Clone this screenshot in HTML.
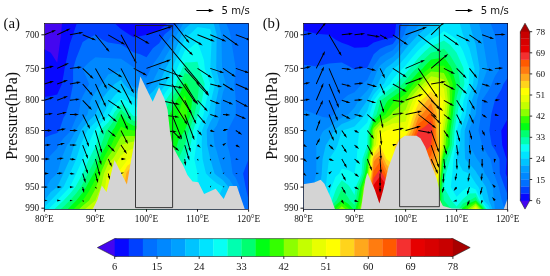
<!DOCTYPE html>
<html lang="en"><head><meta charset="utf-8"><title>Figure</title>
<style>html,body{margin:0;padding:0;background:#fff}svg{display:block}text{font-family:"Liberation Serif","DejaVu Serif",serif;fill:#111}</style></head><body>
<svg width="550" height="276" viewBox="0 0 550 276">
<rect width="550" height="276" fill="#fff"/>
<clipPath id="cp1"><rect x="44.4" y="23.3" width="204.2" height="186"/></clipPath>
<g clip-path="url(#cp1)">
<rect x="44.4" y="23.3" width="204.2" height="186" fill="#4406f0"/>
<path fill="#0808ff" fill-rule="evenodd" d="M62 23.3L63.5 23.3L69.9 23.3L76.3 23.3L82.7 23.3L89.1 23.3L95.4 23.3L101.8 23.3L108.2 23.3L114.6 23.3L121 23.3L127.3 23.3L133.7 23.3L140.1 23.3L146.5 23.3L152.9 23.3L159.2 23.3L165.6 23.3L172 23.3L178.4 23.3L184.8 23.3L191.1 23.3L197.5 23.3L203.9 23.3L210.3 23.3L216.7 23.3L223 23.3L229.4 23.3L235.8 23.3L242.2 23.3L248.6 23.3L248.6 34.8L248.6 68.4L248.6 84L248.6 100.3L248.6 114.5L248.6 130.5L248.6 145.1L248.6 159L248.6 173.5L248.6 187.1L248.6 200.5L248.6 209.3L242.2 209.3L235.8 209.3L229.4 209.3L223 209.3L216.7 209.3L210.3 209.3L203.9 209.3L197.5 209.3L191.1 209.3L184.8 209.3L178.4 209.3L172 209.3L165.6 209.3L159.2 209.3L152.9 209.3L146.5 209.3L140.1 209.3L133.7 209.3L127.3 209.3L121 209.3L114.6 209.3L108.2 209.3L101.8 209.3L95.4 209.3L89.1 209.3L82.7 209.3L76.3 209.3L69.9 209.3L63.5 209.3L57.2 209.3L50.8 209.3L44.4 209.3L44.4 200.5L44.4 187.1L44.4 173.5L44.4 159L44.4 145.1L44.4 130.5L44.4 114.5L44.4 100.3L44.4 84L44.4 68.4L44.4 49.2L50.8 52.7L57.2 62.8L61 34.8Z"/>
<path fill="#0040ff" fill-rule="evenodd" d="M73 34.8L76.3 24.7L76.7 23.3L82.7 23.3L89.1 23.3L95.4 23.3L101.8 23.3L108.2 23.3L114.6 23.3L114.6 23.3L121 29L127.3 33.2L129.5 34.8L133.7 37.3L140.1 36.3L146.5 34.8L146.5 34.8L152.9 32.2L159.2 30.2L165.6 24.7L168.8 23.3L172 23.3L178.4 23.3L184.8 23.3L191.1 23.3L197.5 23.3L203.9 23.3L210.3 23.3L216.7 23.3L223 23.3L229.4 23.3L235.8 23.3L242.2 23.3L248.6 23.3L248.6 34.8L248.6 68.4L248.6 84L248.6 100.3L248.6 114.5L248.6 130.5L248.6 145.1L248.6 159L248.6 173.5L248.6 187.1L248.6 200.5L248.6 209.3L242.2 209.3L235.8 209.3L229.4 209.3L223 209.3L216.7 209.3L210.3 209.3L203.9 209.3L197.5 209.3L191.1 209.3L184.8 209.3L178.4 209.3L172 209.3L165.6 209.3L159.2 209.3L152.9 209.3L146.5 209.3L140.1 209.3L133.7 209.3L127.3 209.3L121 209.3L114.6 209.3L108.2 209.3L101.8 209.3L95.4 209.3L89.1 209.3L82.7 209.3L76.3 209.3L69.9 209.3L63.5 209.3L57.2 209.3L50.8 209.3L44.4 209.3L44.4 200.5L44.4 187.1L44.4 173.5L44.4 159L44.4 145.1L44.4 130.5L44.4 114.5L44.4 100.3L44.4 97L50.8 95.9L57.2 94.6L61.9 84L63.5 75.3L64.6 68.4L69.9 43.5Z"/>
<path fill="#0070ff" fill-rule="evenodd" d="M164.3 34.8L165.6 33.4L172 28.5L175.4 23.3L178.4 23.3L184.8 23.3L191.1 23.3L197.5 23.3L203.9 23.3L210.3 23.3L216.7 23.3L223 23.3L229.4 23.3L235.8 23.3L242.2 23.3L248.6 23.3L248.6 34.8L248.6 68.4L248.6 84L248.6 100.3L248.6 114.5L248.6 130.5L248.6 130.5L248.6 145.1L248.6 159L243.1 173.5L245.6 187.1L248.6 200.5L248.6 200.5L248.6 209.3L242.2 209.3L235.8 209.3L229.4 209.3L223 209.3L216.7 209.3L210.3 209.3L203.9 209.3L197.5 209.3L191.1 209.3L184.8 209.3L178.4 209.3L172 209.3L165.6 209.3L159.2 209.3L152.9 209.3L146.5 209.3L140.1 209.3L133.7 209.3L127.3 209.3L121 209.3L114.6 209.3L108.2 209.3L101.8 209.3L95.4 209.3L89.1 209.3L82.7 209.3L76.3 209.3L69.9 209.3L63.5 209.3L57.2 209.3L50.8 209.3L44.4 209.3L44.4 200.5L44.4 187.1L44.4 173.5L44.4 159L44.4 145.1L44.4 137.8L50.8 134.9L57.2 132.9L59.3 130.5L63.5 117.7L65.7 114.5L69.9 100.3L69.9 100.3L73.1 84L73.1 68.4L76.3 58.1L82.7 41.9L89.1 38L95.4 34.8L101.8 39.4L108.2 42.6L114.6 43.5L121 44.4L127.3 48.3L133.7 52.4L140.1 54.3L146.5 57.2L152.9 48.2L159.2 43.2Z"/>
<path fill="#0088ff" fill-rule="evenodd" d="M172 34.8L178.4 25.1L179.4 23.3L184.8 23.3L191.1 23.3L197.5 23.3L203.9 23.3L210.3 23.3L216.7 23.3L223 23.3L226.2 23.3L229.4 31L230.3 34.8L235.8 68.4L234.4 84L235.8 100.3L235.8 114.5L229.4 127.3L227.3 130.5L227.3 145.1L229.4 152.1L230.7 159L232.6 173.5L235.8 178L239.7 187.1L235.8 200.5L235.8 200.5L235.8 209.3L229.4 209.3L223 209.3L216.7 209.3L210.3 209.3L203.9 209.3L197.5 209.3L191.1 209.3L184.8 209.3L178.4 209.3L172 209.3L165.6 209.3L159.2 209.3L152.9 209.3L146.5 209.3L140.1 209.3L133.7 209.3L127.3 209.3L121 209.3L114.6 209.3L108.2 209.3L101.8 209.3L95.4 209.3L89.1 209.3L82.7 209.3L76.3 209.3L69.9 209.3L63.5 209.3L57.2 209.3L50.8 209.3L44.4 209.3L44.4 200.5L44.4 187.1L44.4 173.5L44.4 163.8L47.6 159L50.8 155L57.2 148.6L58.6 145.1L63.5 138.3L69.9 132.1L70.8 130.5L76.3 117.2L78.5 114.5L80.9 100.3L82.7 96.2L89.1 84L89.1 84L89.1 84L82.7 68.4L89.1 62.3L95.4 57.2L101.8 57.7L108.2 58.1L114.6 58.4L121 58.8L127.3 63L133.7 67.4L135.2 68.4L140.1 74.5L146.5 77.8L150.7 68.4L152.9 64.4L159.2 55.8L165.6 44.7L172 34.8Z"/>
<path fill="#00a0ff" fill-rule="evenodd" d="M176.8 34.8L178.4 32.4L183.4 23.3L184.8 23.3L191.1 23.3L197.5 23.3L203.9 23.3L210.3 23.3L216.7 23.3L218.8 23.3L221.4 34.8L222.1 68.4L223 73.6L225.9 84L223 92.2L221.3 100.3L220.9 114.5L216.7 125.5L213.1 130.5L214.6 145.1L216.7 151.3L218.8 159L223 173.5L223 173.5L229.4 179.5L234 187.1L230.3 200.5L230.3 209.3L229.4 209.3L223 209.3L216.7 209.3L210.3 209.3L203.9 209.3L197.5 209.3L191.1 209.3L184.8 209.3L178.4 209.3L172 209.3L165.6 209.3L159.2 209.3L152.9 209.3L146.5 209.3L140.1 209.3L133.7 209.3L127.3 209.3L121 209.3L114.6 209.3L108.2 209.3L101.8 209.3L95.4 209.3L89.1 209.3L82.7 209.3L76.3 209.3L69.9 209.3L63.5 209.3L57.2 209.3L50.8 209.3L44.4 209.3L44.4 200.5L44.4 189L46.2 187.1L50.8 179.5L57.2 173.5L57.2 173.5L61.4 159L63.5 153.8L67.1 145.1L69.9 141.9L75.9 130.5L76.3 129.5L82.7 119.5L87.5 114.5L89.1 106.8L90.7 100.3L95.4 92.2L101.8 84L101.8 84L108.2 74.6L114.6 72.3L121 71.2L127.3 77.8L129.8 84L133.7 87.3L140.1 88.1L146.5 89.4L151.6 84L152.9 81.2L159.2 68.4L159.2 68.4L165.6 56.5L172 46Z"/>
<path fill="#00c4ff" fill-rule="evenodd" d="M181.6 34.8L184.8 29L191.1 23.3L191.1 23.3L197.5 23.3L203.9 23.3L210.3 23.3L213.7 23.3L216.7 34.8L216.2 68.4L216.7 70.1L219.8 84L216.7 98.5L216.2 100.3L214.5 114.5L210.3 121.9L206.7 130.5L207.2 145.1L210.3 159L210.3 159L214.5 173.5L216.7 175.4L223 180.3L228.5 187.1L224.9 200.5L224.9 209.3L223 209.3L216.7 209.3L210.3 209.3L203.9 209.3L197.5 209.3L191.1 209.3L184.8 209.3L178.4 209.3L172 209.3L165.6 209.3L159.2 209.3L152.9 209.3L146.5 209.3L140.1 209.3L133.7 209.3L127.3 209.3L121 209.3L114.6 209.3L108.2 209.3L101.8 209.3L95.4 209.3L89.1 209.3L82.7 209.3L76.3 209.3L69.9 209.3L63.5 209.3L57.2 209.3L50.8 209.3L44.4 209.3L44.4 200.5L44.4 200.5L50.8 192L57.2 187.1L57.2 187.1L63.5 173.5L63.5 173.5L69.9 159L69.9 159L74.2 145.1L76.3 141.2L81 130.5L82.7 127.7L89.1 120.7L95.4 114.5L95.4 114.5L100.9 100.3L101.8 99L108.2 91L114.6 84L114.6 84L121 79.7L123.9 84L127.3 87.8L133.7 92.2L140.1 94.2L146.5 97.6L152.9 91.4L159.2 84L159.2 84L165.6 68.4L165.6 68.4L172 57.2L178.4 42.5Z"/>
<path fill="#00e4ff" fill-rule="evenodd" d="M189 34.8L191.1 33.2L197.5 27.1L203.9 27.9L210.3 29L211.9 34.8L210.3 68.4L210.3 68.4L210.3 68.4L215.1 84L211.1 100.3L210.3 105L208.6 114.5L203.9 125.8L202.1 130.5L201.7 145.1L202.6 159L203.9 164.8L206 173.5L210.3 178L216.7 183.2L223 187.1L216.7 200.5L216.7 200.5L216.7 209.3L210.3 209.3L203.9 209.3L197.5 209.3L191.1 209.3L184.8 209.3L178.4 209.3L172 209.3L165.6 209.3L159.2 209.3L152.9 209.3L146.5 209.3L140.1 209.3L133.7 209.3L127.3 209.3L121 209.3L114.6 209.3L108.2 209.3L101.8 209.3L95.4 209.3L89.1 209.3L82.7 209.3L76.3 209.3L69.9 209.3L63.5 209.3L57.2 209.3L50.8 209.3L44.4 209.3L44.4 207.1L50.8 200.5L50.8 200.5L57.2 193.8L63.5 187.1L63.5 187.1L69.9 173.5L69.9 173.5L76.3 159L76.3 159L80.6 145.1L82.7 140.2L87.3 130.5L89.1 128.5L95.4 121.9L101.8 115.6L103.1 114.5L108.2 105L111 100.3L114.6 95.5L121 88.9L127.3 94.3L133.7 97L140.1 100.3L140.1 100.3L146.5 105L152.9 100.3L152.9 100.3L159.2 93.8L165.6 84L165.6 84L172 68.4L172 68.4L178.4 54L184.8 38.8Z"/>
<path fill="#08fff4" fill-rule="evenodd" d="M177.1 68.4L178.4 65.5L184.8 50.6L191.1 47.2L197.5 41.5L203.9 60L204.8 68.4L210.3 84L206.5 100.3L203.9 112.7L203.5 114.5L197.5 130.5L197.5 130.5L196.2 145.1L194.3 159L197.5 173.5L197.5 187.1L191.1 193.8L184.8 200.5L184.8 200.5L184.8 209.3L178.4 209.3L172 209.3L165.6 209.3L159.2 209.3L152.9 209.3L146.5 209.3L140.1 209.3L133.7 209.3L127.3 209.3L121 209.3L114.6 209.3L108.2 209.3L101.8 209.3L95.4 209.3L89.1 209.3L82.7 209.3L76.3 209.3L69.9 209.3L63.5 209.3L57.2 209.3L50.8 209.3L48.3 209.3L50.8 206.7L57.2 200.5L57.2 200.5L63.5 193.8L69.9 187.1L69.9 187.1L76.3 173.5L76.3 173.5L82.7 159L82.7 159L88.1 145.1L89.1 143.1L94.3 130.5L95.4 129.3L101.8 122.2L108.2 116.5L109.5 114.5L114.6 104.6L119.5 100.3L121 98.7L125.2 100.3L127.3 100.9L133.7 105L140.1 109.8L146.5 112.1L152.9 107.4L159.2 102.7L160.8 100.3L165.6 92.2L172 84L172 84Z"/>
<path fill="#00ffb0" fill-rule="evenodd" d="M182.2 68.4L184.8 62.5L191.1 62.2L197.5 61.7L199.3 68.4L203.9 81.4L204.8 84L203.9 88.7L202 100.3L198.4 114.5L197.5 116.8L193.3 130.5L191.1 142.3L190.5 145.1L184.8 159L184.8 159L182.2 173.5L178.4 187.1L178.4 187.1L172 200.5L172 200.5L172 209.3L165.6 209.3L159.2 209.3L152.9 209.3L146.5 209.3L140.1 209.3L133.7 209.3L127.3 209.3L121 209.3L114.6 209.3L108.2 209.3L101.8 209.3L95.4 209.3L89.1 209.3L82.7 209.3L76.3 209.3L69.9 209.3L63.5 209.3L57.2 209.3L54.2 209.3L57.2 206.4L63.5 200.5L63.5 200.5L69.9 193.8L75.4 187.1L76.3 185.2L82.7 173.5L82.7 173.5L89.1 159L89.1 159L95.4 146.4L96 145.1L100.3 130.5L101.8 128.8L108.2 122.5L113.3 114.5L114.6 112L121 104.5L127.3 108.3L131.9 114.5L133.7 116.1L140.1 116.8L146.5 117.4L152.9 114.5L152.9 114.5L159.2 109.8L165.6 100.3L165.6 100.3L172 91L176 84L178.4 77.2Z"/>
<path fill="#00ff70" fill-rule="evenodd" d="M180.1 84L184.8 73.1L191.1 75.2L197.5 78.8L199.3 84L197.5 100.3L197.5 100.3L194.5 114.5L191.1 124.9L189 130.5L184.8 145.1L184.8 145.1L178.4 159L178.4 159L174.6 173.5L172 180.3L170.4 187.1L167.2 200.5L167.2 209.3L165.6 209.3L159.2 209.3L152.9 209.3L146.5 209.3L140.1 209.3L133.7 209.3L127.3 209.3L121 209.3L114.6 209.3L108.2 209.3L101.8 209.3L95.4 209.3L89.1 209.3L82.7 209.3L76.3 209.3L69.9 209.3L63.5 209.3L60.6 209.3L63.5 206.7L69.9 200.5L69.9 200.5L76.3 193.2L80.9 187.1L82.7 183.7L88.1 173.5L89.1 171.4L95.4 159L95.4 159L101.2 145.1L101.8 143.1L106.2 130.5L108.2 128.5L114.6 119.8L117.1 114.5L121 109.5L126.4 114.5L127.3 115.6L133.7 120.9L140.1 121.4L146.5 121.8L152.9 119.8L159.2 116.8L161.8 114.5L165.6 109.8L170.4 100.3L172 98L178.4 87.9Z"/>
<path fill="#00ff14" fill-rule="evenodd" d="M184.1 84L184.8 82.4L187.3 84L191.1 93.8L192.1 100.3L191.1 109.8L190.8 114.5L184.8 130.5L184.8 130.5L178.4 140.2L177.1 145.1L172 159L172 159L168.8 173.5L165.6 187.1L165.6 187.1L162.4 200.5L162.4 209.3L159.2 209.3L152.9 209.3L146.5 209.3L140.1 209.3L133.7 209.3L127.3 209.3L121 209.3L114.6 209.3L108.2 209.3L101.8 209.3L95.4 209.3L89.1 209.3L82.7 209.3L76.3 209.3L69.9 209.3L67.6 209.3L69.9 207.1L76.3 200.5L76.3 200.5L82.7 192.5L86.1 187.1L89.1 181.5L93.6 173.5L95.4 169.9L99.3 159L101.8 153L106.5 145.1L108.2 140.2L112.5 130.5L114.6 127.8L121 114.5L127.3 122.5L133.7 125.7L140.1 125.9L146.5 126.1L152.9 125.2L159.2 123.6L165.6 120.5L169.4 114.5L172 109.8L176.3 100.3L178.4 97.2Z"/>
<path fill="#34ff00" fill-rule="evenodd" d="M182.6 100.3L184.8 95.6L186.6 100.3L187.2 114.5L184.8 120.9L178.4 114.5ZM118.8 130.5L121 126.5L127.3 129.4L133.7 130.5L133.7 130.5L140.1 130.5L146.5 130.5L152.9 130.5L159.2 130.5L165.6 135.4L168.8 145.1L165.6 159L165.6 159L164 173.5L160.8 187.1L159.2 193.8L157.4 200.5L157.4 209.3L152.9 209.3L146.5 209.3L140.1 209.3L133.7 209.3L127.3 209.3L121 209.3L114.6 209.3L108.2 209.3L101.8 209.3L95.4 209.3L89.1 209.3L82.7 209.3L76.3 209.3L73.6 209.3L76.3 206.4L82.7 200.5L82.7 200.5L89.1 191L91.2 187.1L95.4 179.5L97.6 173.5L101.8 161.9L103.1 159L108.2 149.7L111.4 145.1L114.6 137.8Z"/>
<path fill="#8cff00" fill-rule="evenodd" d="M116.2 145.1L121 136.3L127.3 136.1L133.7 136L140.1 136.8L146.5 137.8L152.9 140.2L159.2 145.1L159.2 159L159.2 173.5L156.1 187.1L152.9 197.8L151.9 200.5L151.9 209.3L146.5 209.3L140.1 209.3L133.7 209.3L127.3 209.3L121 209.3L114.6 209.3L108.2 209.3L101.8 209.3L95.4 209.3L89.1 209.3L82.7 209.3L79 209.3L82.7 205.8L89.1 200.5L89.1 200.5L95.4 189L96.2 187.1L100.8 173.5L101.8 170.6L106.9 159L108.2 156.7L114.6 147.9Z"/>
<path fill="#c4ff00" fill-rule="evenodd" d="M121 145.1L127.3 142.9L133.7 141.4L140.1 143L146.5 145.1L146.5 145.1L152.9 153.4L154.5 159L154.5 173.5L152.9 180.3L151.3 187.1L146.5 200.5L146.5 200.5L146.5 209.3L140.1 209.3L133.7 209.3L127.3 209.3L121 209.3L114.6 209.3L108.2 209.3L101.8 209.3L95.4 209.3L89.1 209.3L84.8 209.3L89.1 205.8L95.4 200.5L95.4 200.5L100.7 187.1L101.8 183.4L103.9 173.5L108.2 163.8L112.5 159L114.6 156.2L121 145.1Z"/>
<path fill="#e8ff00" fill-rule="evenodd" d="M118.8 159L121 155.5L127.3 151.3L133.7 147.9L140.1 150.7L146.5 153.4L149.7 159L149.7 173.5L146.5 187.1L146.5 187.1L140.1 199.8L138.8 200.5L138.8 209.3L133.7 209.3L127.3 209.3L121 209.3L114.6 209.3L108.2 209.3L101.8 209.3L95.4 209.3L91.2 209.3L95.4 205.8L101.8 202.3L103.1 200.5L105.2 187.1L107.1 173.5L108.2 171.1L114.6 165.4Z"/>
<path fill="#ffff00" fill-rule="evenodd" d="M129.5 159L133.7 156.2L140.1 159L140.1 159L145.6 173.5L144.4 187.1L140.1 195.6L133.7 199.7L127.3 199.2L121 197.2L114.6 193.8L111.4 187.1L114.6 178L116.7 173.5L121 168.7L127.3 160Z"/>
<path fill="#ffd41c" fill-rule="evenodd" d="M123.1 173.5L127.3 165.8L133.7 161.4L140.1 166.2L142.8 173.5L142.2 187.1L140.1 191.3L133.7 197.2L127.3 195.1L121 187.1Z"/>
<path fill="#ffa81c" fill-rule="evenodd" d="M126.3 173.5L127.3 171.6L133.7 165L140.1 173.5L140.1 187.1L133.7 194.6L127.3 191.1L124.2 187.1Z"/>
<path fill="#ff7c10" fill-rule="evenodd" d="M129.5 173.5L133.7 168.7L137.4 173.5L138 187.1L133.7 192.1L127.3 187.1Z"/>
<path fill="#ff5a00" fill-rule="evenodd" d="M132.7 173.5L133.7 172.3L134.6 173.5L135.8 187.1L133.7 189.6L130.5 187.1Z"/>
<g fill="#000">
<path d="M44.58 35.24L52.29 32.12L52.56 32.79L56 30.1L51.66 30.57L51.93 31.24L44.22 34.36Z"/>
<path d="M57.36 35.23L66.97 30.64L67.29 31.29L70.56 28.4L66.25 29.13L66.57 29.78L56.96 34.37Z"/>
<path d="M70.01 35.27L79.38 33.53L79.51 34.24L83.42 32.3L79.07 31.88L79.2 32.6L69.83 34.33Z"/>
<path d="M82.5 35.24L92.01 39.14L91.74 39.82L96.08 40.3L92.65 37.6L92.37 38.27L82.86 34.36Z"/>
<path d="M95.07 35.1L106.51 49.05L105.95 49.51L109.54 52L107.81 47.99L107.24 48.45L95.81 34.5Z"/>
<path d="M107.96 35.21L121.33 43L120.97 43.62L125.2 44.7L122.17 41.55L121.81 42.18L108.44 34.39Z"/>
<path d="M120.54 35.03L134.23 60.14L133.6 60.49L136.66 63.6L135.7 59.34L135.07 59.68L121.38 34.57Z"/>
<path d="M133.48 35.21L145.75 42.31L145.38 42.94L149.62 44L146.59 40.86L146.22 41.49L133.96 34.39Z"/>
<path d="M146.63 35.25L168.64 27.97L168.87 28.66L172.48 26.2L168.12 26.38L168.34 27.07L146.33 34.35Z"/>
<path d="M158.87 35.1L205.99 91.97L205.44 92.43L209.04 94.9L207.28 90.9L206.73 91.36L159.61 34.5Z"/>
<path d="M171.67 35.14L189.87 53L189.36 53.52L193.2 55.6L191.04 51.8L190.53 52.32L172.33 34.46Z"/>
<path d="M184.52 35.21L198.9 43.68L198.53 44.3L202.76 45.4L199.75 42.23L199.38 42.86L185 34.39Z"/>
<path d="M197.35 35.24L210.63 40.42L210.37 41.09L214.72 41.5L211.24 38.86L210.98 39.53L197.69 34.36Z"/>
<path d="M210.1 35.24L222.22 40.32L221.94 40.98L226.28 41.5L222.87 38.77L222.59 39.44L210.46 34.36Z"/>
<path d="M222.76 35.19L235.05 44.03L234.63 44.62L238.74 46.1L236.03 42.67L235.61 43.26L223.32 34.41Z"/>
<path d="M235.64 35.25L246.69 39.3L246.44 39.98L250.8 40.3L247.27 37.73L247.02 38.41L235.96 34.35Z"/>
<path d="M44.52 68.86L50.04 67.48L50.22 68.18L54 66L49.63 65.85L49.81 66.56L44.28 67.94Z"/>
<path d="M57.36 68.83L65.34 65.18L65.64 65.84L68.96 63L64.64 63.66L64.94 64.32L56.96 67.97Z"/>
<path d="M69.98 68.87L77.8 67.96L77.89 68.68L81.92 67L77.61 66.29L77.69 67.01L69.86 67.93Z"/>
<path d="M82.35 68.74L90.33 76.43L89.82 76.95L93.68 79L91.49 75.22L90.99 75.74L83.01 68.06Z"/>
<path d="M95.03 68.63L104.57 85.57L103.93 85.93L107.04 89L106.02 84.75L105.39 85.11L95.85 68.17Z"/>
<path d="M107.94 68.8L118.62 75.71L118.22 76.32L122.4 77.6L119.53 74.31L119.13 74.92L108.46 68Z"/>
<path d="M120.54 68.62L131.6 89.89L130.96 90.23L133.96 93.4L133.09 89.12L132.44 89.45L121.38 68.18Z"/>
<path d="M133.5 68.82L143.18 73.88L142.84 74.52L147.12 75.4L143.95 72.39L143.62 73.03L133.94 67.98Z"/>
<path d="M146.64 68.85L167.19 61.47L167.43 62.15L170.98 59.6L166.62 59.89L166.87 60.57L146.32 67.95Z"/>
<path d="M159.08 68.85L178.93 76.02L178.68 76.7L183.04 77L179.5 74.44L179.25 75.13L159.4 67.95Z"/>
<path d="M171.61 68.67L193.23 100.2L192.64 100.61L196 103.4L194.61 99.26L194.02 99.67L172.39 68.13Z"/>
<path d="M184.4 68.71L196.63 82.56L196.08 83.04L199.76 85.4L197.88 81.46L197.34 81.94L185.12 68.09Z"/>
<path d="M197.26 68.8L208.35 76.09L207.95 76.7L212.12 78L209.27 74.69L208.87 75.3L197.78 68Z"/>
<path d="M210.13 68.85L219.95 72.12L219.72 72.81L224.08 73L220.48 70.53L220.25 71.22L210.43 67.95Z"/>
<path d="M222.78 68.79L232.09 75.05L231.68 75.65L235.84 77L233.02 73.66L232.62 74.26L223.3 68.01Z"/>
<path d="M235.65 68.85L245.07 72.09L244.84 72.77L249.2 73L245.62 70.5L245.38 71.19L235.95 67.95Z"/>
<path d="M44.54 84.45L50.13 82.71L50.35 83.4L54 81L49.63 81.11L49.85 81.8L44.26 83.55Z"/>
<path d="M57.32 84.45L64.19 81.9L64.44 82.58L67.96 80L63.6 80.33L63.86 81.01L57 83.55Z"/>
<path d="M70 84.47L76.87 83.22L77 83.93L80.92 82L76.57 81.57L76.7 82.28L69.84 83.53Z"/>
<path d="M82.32 84.31L89.97 93.14L89.42 93.61L93.08 96L91.24 92.04L90.69 92.52L83.04 83.69Z"/>
<path d="M95.01 84.2L103.85 103.38L103.19 103.69L106.04 107L105.37 102.68L104.71 102.99L95.87 83.8Z"/>
<path d="M107.94 84.39L117.85 91.05L117.44 91.65L121.6 93L118.78 89.66L118.38 90.26L108.46 83.61Z"/>
<path d="M120.54 84.22L129.59 101.5L128.95 101.84L131.96 105L131.07 100.72L130.43 101.06L121.38 83.78Z"/>
<path d="M146.62 84.46L166.19 78.65L166.39 79.34L170.08 77L165.71 77.04L165.92 77.74L146.34 83.54Z"/>
<path d="M159.16 84.47L178.82 87.77L178.7 88.49L183.04 88L179.1 86.12L178.98 86.84L159.32 83.53Z"/>
<path d="M171.6 84.26L189.28 110.77L188.67 111.17L192 114L190.67 109.84L190.07 110.24L172.4 83.74Z"/>
<path d="M184.36 84.26L195.5 101.71L194.89 102.1L198.16 105L196.91 100.81L196.3 101.2L185.16 83.74Z"/>
<path d="M197.18 84.33L205.86 93.31L205.34 93.81L209.12 96L207.06 92.15L206.54 92.65L197.86 83.67Z"/>
<path d="M210.16 84.46L217.89 86.43L217.71 87.13L222.08 87L218.31 84.8L218.13 85.5L210.4 83.54Z"/>
<path d="M222.79 84.4L230.43 89.18L230.04 89.79L234.24 91L231.31 87.76L230.93 88.37L223.29 83.6Z"/>
<path d="M235.61 84.43L245.17 88.72L244.88 89.38L249.2 90L245.86 87.19L245.56 87.85L235.99 83.57Z"/>
<path d="M44.55 100.75L50.17 98.88L50.4 99.57L54 97.1L49.64 97.29L49.87 97.98L44.25 99.85Z"/>
<path d="M57.33 100.74L64.22 98.06L64.48 98.74L67.96 96.1L63.61 96.5L63.87 97.18L56.99 99.86Z"/>
<path d="M69.98 100.77L75.81 100.07L75.89 100.79L79.92 99.1L75.61 98.41L75.69 99.13L69.86 99.83Z"/>
<path d="M82.34 100.63L88.83 107.4L88.31 107.9L92.08 110.1L90.04 106.24L89.52 106.74L83.02 99.97Z"/>
<path d="M95.01 100.5L102.86 117.68L102.2 117.98L105.04 121.3L104.39 116.98L103.73 117.28L95.87 100.1Z"/>
<path d="M107.93 100.69L117.27 107.11L116.86 107.71L121 109.1L118.22 105.73L117.81 106.33L108.47 99.91Z"/>
<path d="M120.54 100.51L128.66 116.76L128.01 117.08L130.96 120.3L130.16 116.01L129.51 116.33L121.38 100.09Z"/>
<path d="M159.15 100.77L175.63 104.13L175.48 104.84L179.84 104.5L175.96 102.49L175.82 103.2L159.33 99.83Z"/>
<path d="M171.6 100.55L184.86 121.6L184.25 121.99L187.5 124.9L186.28 120.71L185.66 121.09L172.4 100.05Z"/>
<path d="M184.33 100.51L194.1 120.63L193.45 120.95L196.36 124.2L195.61 119.9L194.95 120.21L185.19 100.09Z"/>
<path d="M197.17 100.62L204.63 108.73L204.09 109.22L207.82 111.5L205.86 107.6L205.33 108.09L197.87 99.98Z"/>
<path d="M210.11 100.74L215.99 103.02L215.73 103.7L220.08 104.1L216.6 101.46L216.34 102.14L210.45 99.86Z"/>
<path d="M222.86 100.74L229.18 103.34L228.9 104.01L233.24 104.5L229.81 101.79L229.54 102.46L223.22 99.86Z"/>
<path d="M235.57 100.72L244.29 105.5L243.94 106.13L248.2 107.1L245.09 104.03L244.75 104.66L236.03 99.88Z"/>
<path d="M44.45 114.97L48.88 114.46L48.97 115.18L53 113.5L48.69 112.79L48.77 113.51L44.35 114.03Z"/>
<path d="M57.27 114.96L62.99 113.56L63.17 114.26L66.96 112.1L62.6 111.93L62.77 112.64L57.05 114.04Z"/>
<path d="M69.92 114.97L74.72 114.97L74.72 115.7L78.92 114.5L74.72 113.3L74.72 114.03L69.92 114.03Z"/>
<path d="M82.26 114.71L87.76 125.57L87.11 125.9L90.08 129.1L89.25 124.81L88.6 125.14L83.1 114.29Z"/>
<path d="M95 114.68L101.44 130.78L100.77 131.05L103.44 134.5L102.99 130.15L102.32 130.42L95.88 114.32Z"/>
<path d="M107.89 114.86L113.51 119.71L113.04 120.26L117 122.1L114.61 118.45L114.13 119L108.51 114.14Z"/>
<path d="M120.53 114.69L125.81 126.46L125.15 126.76L127.96 130.1L127.34 125.78L126.67 126.07L121.39 114.31Z"/>
<path d="M159.18 114.97L175.01 117.11L174.92 117.83L179.24 117.2L175.24 115.45L175.14 116.17L159.3 114.03Z"/>
<path d="M171.56 114.68L180 135.78L179.33 136.05L182 139.5L181.55 135.15L180.88 135.42L172.44 114.32Z"/>
<path d="M184.32 114.67L192.53 136.44L191.85 136.69L194.46 140.2L194.1 135.85L193.42 136.1L185.2 114.33Z"/>
<path d="M197.16 114.81L202.81 121.34L202.26 121.81L205.92 124.2L204.08 120.24L203.53 120.71L197.88 114.19Z"/>
<path d="M210.13 114.95L214.54 116.37L214.31 117.06L218.68 117.2L215.05 114.77L214.83 115.46L210.43 114.05Z"/>
<path d="M223 114.97L226.02 115.22L225.95 115.95L230.24 115.1L226.15 113.56L226.09 114.28L223.08 114.03Z"/>
<path d="M235.61 114.93L242.17 117.84L241.87 118.5L246.2 119.1L242.84 116.3L242.55 116.97L235.99 114.07Z"/>
<path d="M44.4 130.97L47.8 130.97L47.8 131.7L52 130.5L47.8 129.3L47.8 130.03L44.4 130.03Z"/>
<path d="M57.26 130.97L61.94 130.01L62.09 130.72L65.96 128.7L61.6 128.37L61.75 129.08L57.06 130.03Z"/>
<path d="M69.92 130.97L73.72 130.97L73.72 131.7L77.92 130.5L73.72 129.3L73.72 130.03L69.92 130.03Z"/>
<path d="M82.24 130.67L87.13 143.35L86.45 143.61L89.08 147.1L88.69 142.75L88.01 143.01L83.12 130.33Z"/>
<path d="M94.98 130.63L100.41 149.2L99.71 149.4L102.04 153.1L102.01 148.73L101.32 148.94L95.9 130.37Z"/>
<path d="M107.89 130.86L112.49 134.75L112.02 135.3L116 137.1L113.57 133.47L113.1 134.02L108.51 130.14Z"/>
<path d="M120.54 130.72L125.62 140.58L124.97 140.91L127.96 144.1L127.1 139.82L126.46 140.15L121.38 130.28Z"/>
<path d="M159.2 130.97L172.42 131.96L172.36 132.68L176.64 131.8L172.54 130.29L172.49 131.01L159.28 130.03Z"/>
<path d="M171.67 130.84L177.78 136.88L177.27 137.4L181.1 139.5L178.96 135.69L178.45 136.21L172.33 130.16Z"/>
<path d="M184.3 130.62L189.1 148.37L188.4 148.56L190.66 152.3L190.72 147.93L190.02 148.12L185.22 130.38Z"/>
<path d="M197.16 130.81L198.98 132.87L198.44 133.35L202.12 135.7L200.24 131.76L199.69 132.24L197.88 130.19Z"/>
<path d="M210.14 130.95L210.72 131.13L210.51 131.83L214.88 131.9L211.21 129.53L211 130.22L210.42 130.05Z"/>
<path d="M223.16 130.96L224.31 130.65L224.5 131.35L228.24 129.1L223.87 129.03L224.06 129.73L222.92 130.04Z"/>
<path d="M235.54 130.9L238.43 132.79L238.03 133.4L242.2 134.7L239.35 131.39L238.95 132L236.06 130.1Z"/>
<path d="M44.43 145.57L46.84 145.43L46.88 146.15L51 144.7L46.74 143.76L46.78 144.48L44.37 144.63Z"/>
<path d="M57.28 145.56L61.01 144.6L61.19 145.31L64.96 143.1L60.59 142.98L60.77 143.68L57.04 144.64Z"/>
<path d="M69.92 145.57L72.72 145.57L72.72 146.3L76.92 145.1L72.72 143.9L72.72 144.62L69.92 144.62Z"/>
<path d="M82.24 145.27L86.13 155.35L85.45 155.61L88.08 159.1L87.69 154.75L87.01 155.01L83.12 144.93Z"/>
<path d="M94.99 145.24L99.78 161.21L99.08 161.42L101.44 165.1L101.38 160.73L100.69 160.94L95.89 144.96Z"/>
<path d="M107.86 145.43L111.73 149.42L111.21 149.92L115 152.1L112.93 148.25L112.41 148.76L108.54 144.77Z"/>
<path d="M120.56 145.36L124.24 150.87L123.63 151.27L126.96 154.1L125.63 149.94L125.03 150.34L121.36 144.84Z"/>
<path d="M171.7 145.47L175.65 148.71L175.19 149.27L179.2 151L176.71 147.41L176.25 147.97L172.3 144.73Z"/>
<path d="M184.3 145.24L187.7 156.61L187.01 156.82L189.36 160.5L189.31 156.13L188.61 156.34L185.22 144.96Z"/>
<path d="M197.22 145.47L197.27 145.51L196.81 146.07L200.82 147.8L198.33 144.21L197.87 144.77L197.82 144.73Z"/>
<path d="M213.58 147.1L209.71 146.04L210.85 144.16Z"/>
<path d="M226.34 142.7L223.73 146.04L222.35 144.16Z"/>
<path d="M235.57 145.52L236.29 145.91L235.94 146.54L240.2 147.5L237.09 144.44L236.74 145.07L236.03 144.68Z"/>
<path d="M44.4 159.47L45.8 159.47L45.8 160.2L50 159L45.8 157.8L45.8 158.53L44.4 158.53Z"/>
<path d="M57.23 159.47L59.87 159.08L59.98 159.8L63.96 158L59.63 157.42L59.74 158.14L57.09 158.53Z"/>
<path d="M69.87 159.47L71.69 159.65L71.62 160.38L75.92 159.6L71.86 157.99L71.79 158.71L69.97 158.53Z"/>
<path d="M82.23 159.16L86.21 170.21L85.53 170.45L88.08 174L87.79 169.64L87.1 169.89L83.13 158.84Z"/>
<path d="M94.98 159.12L98.48 172.07L97.78 172.26L100.04 176L100.1 171.63L99.4 171.82L95.9 158.88Z"/>
<path d="M107.77 159.2L109.77 163.41L109.11 163.72L112 167L111.28 162.69L110.63 163L108.63 158.8Z"/>
<path d="M120.96 159.47L121.76 159.47L121.76 160.2L125.96 159L121.76 157.8L121.76 158.53L120.96 158.53Z"/>
<path d="M184.29 159.05L184.61 161.88L183.89 161.96L185.56 166L186.28 161.69L185.56 161.77L185.23 158.95Z"/>
<path d="M198.32 161.2L196.89 159.23L198.15 158.77Z"/>
<path d="M211.08 161L209.71 159.23L210.85 158.77Z"/>
<path d="M225.04 157.3L223.53 159.57L222.55 158.43Z"/>
<path d="M238.8 159.5L235.66 159.86L235.94 158.14Z"/>
<path d="M44.4 173.97L44.8 173.97L44.8 174.7L49 173.5L44.8 172.3L44.8 173.03L44.4 173.03Z"/>
<path d="M57.19 173.97L58.8 173.86L58.85 174.59L62.96 173.1L58.69 172.19L58.74 172.92L57.13 173.03Z"/>
<path d="M69.86 173.97L70.69 174.07L70.61 174.79L74.92 174.1L70.89 172.41L70.81 173.13L69.98 173.03Z"/>
<path d="M82.23 173.64L83.97 179.23L83.28 179.45L85.68 183.1L85.57 178.73L84.88 178.95L83.13 173.36Z"/>
<path d="M94.98 173.62L96.48 179.17L95.78 179.36L98.04 183.1L98.1 178.73L97.4 178.92L95.9 173.38Z"/>
<path d="M107.74 173.62L108.44 176.17L107.74 176.36L110 180.1L110.05 175.73L109.35 175.92L108.66 173.38Z"/>
<path d="M123.96 172.5L121.25 174.36L120.67 172.64Z"/>
<path d="M199.02 173.5L197.52 173.93L197.52 173.07Z"/>
<path d="M211.28 171.5L210.85 173.79L209.71 173.21Z"/>
<path d="M224.54 172.5L223.33 173.93L222.75 173.07Z"/>
<path d="M237.8 173.5L235.8 174.07L235.8 172.93Z"/>
<path d="M48 187.1L44.4 188.13L44.4 186.07Z"/>
<path d="M57.16 187.57L57.76 187.57L57.76 188.3L61.96 187.1L57.76 185.9L57.76 186.62L57.16 186.62Z"/>
<path d="M73.92 187.1L69.92 188.24L69.92 185.96Z"/>
<path d="M82.22 187.21L82.66 189.12L81.96 189.28L84.08 193.1L84.29 188.74L83.59 188.9L83.14 186.99Z"/>
<path d="M97.04 189.1L94.87 187.56L96.01 186.64Z"/>
<path d="M211.28 185.6L210.71 187.39L209.85 186.81Z"/>
<path d="M224.54 186.1L223.33 187.53L222.75 186.67Z"/>
<path d="M237.3 187.1L235.8 187.53L235.8 186.67Z"/>
<path d="M47.6 200.5L44.4 201.41L44.4 199.59Z"/>
<path d="M60.96 200.5L57.16 201.59L57.16 199.41Z"/>
<path d="M72.92 200.5L69.92 201.36L69.92 199.64Z"/>
<path d="M84.08 202.1L82.22 200.9L83.14 200.1Z"/>
<path d="M237.3 199.5L236.09 200.93L235.51 200.07Z"/>
<path d="M158.77 4.49L186.55 40.27L185.98 40.72L189.5 43.3L187.87 39.25L187.3 39.69L159.53 3.91Z"/>
</g>
<polygon fill="#d4d4d4" points="92.4,210 97.3,200 101.8,185.5 106.5,192 114.5,160 126.9,184.5 131,161 133,150 136.4,128 136.9,110 137.5,92 140.4,76.4 152.7,101.8 159.1,87.3 164.5,99 167.6,110 170,131.8 172.7,146.4 180,160 183,165 187.4,175 192.5,181.5 198.3,182.3 204.1,193.9 215.7,188.8 223.7,199 229.5,185.9 236.8,185.9 244.8,209.3 247,210"/>
<rect x="135.5" y="25.5" width="37.1" height="182.1" fill="none" stroke="#1c1c1c" stroke-width="0.85" stroke-linejoin="round"/>
</g>
<rect x="44.4" y="23.3" width="204.2" height="186" fill="none" stroke="#000" stroke-width="0.6"/>
<line x1="41.4" y1="34.8" x2="44.4" y2="34.8" stroke="#000" stroke-width="0.9"/>
<text x="39.2" y="37.9" text-anchor="end" font-size="9.3">700</text>
<line x1="41.4" y1="68.4" x2="44.4" y2="68.4" stroke="#000" stroke-width="0.9"/>
<text x="39.2" y="71.5" text-anchor="end" font-size="9.3">750</text>
<line x1="41.4" y1="100.3" x2="44.4" y2="100.3" stroke="#000" stroke-width="0.9"/>
<text x="39.2" y="103.4" text-anchor="end" font-size="9.3">800</text>
<line x1="41.4" y1="130.5" x2="44.4" y2="130.5" stroke="#000" stroke-width="0.9"/>
<text x="39.2" y="133.6" text-anchor="end" font-size="9.3">850</text>
<line x1="41.4" y1="159" x2="44.4" y2="159" stroke="#000" stroke-width="0.9"/>
<text x="39.2" y="162.1" text-anchor="end" font-size="9.3">900</text>
<line x1="41.4" y1="187.1" x2="44.4" y2="187.1" stroke="#000" stroke-width="0.9"/>
<text x="39.2" y="190.2" text-anchor="end" font-size="9.3">950</text>
<line x1="41.4" y1="208.2" x2="44.4" y2="208.2" stroke="#000" stroke-width="0.9"/>
<text x="39.2" y="211.3" text-anchor="end" font-size="9.3">990</text>
<line x1="44.4" y1="209.3" x2="44.4" y2="211.7" stroke="#000" stroke-width="0.9"/>
<text x="44.4" y="221.9" text-anchor="middle" font-size="9.3">80°E</text>
<line x1="95.4" y1="209.3" x2="95.4" y2="211.7" stroke="#000" stroke-width="0.9"/>
<text x="95.4" y="221.9" text-anchor="middle" font-size="9.3">90°E</text>
<line x1="146.5" y1="209.3" x2="146.5" y2="211.7" stroke="#000" stroke-width="0.9"/>
<text x="146.5" y="221.9" text-anchor="middle" font-size="9.3">100°E</text>
<line x1="197.5" y1="209.3" x2="197.5" y2="211.7" stroke="#000" stroke-width="0.9"/>
<text x="197.5" y="221.9" text-anchor="middle" font-size="9.3">110°E</text>
<line x1="248.6" y1="209.3" x2="248.6" y2="211.7" stroke="#000" stroke-width="0.9"/>
<text x="248.6" y="221.9" text-anchor="middle" font-size="9.3">120°E</text>
<text transform="translate(16.9,115.9) rotate(-90)" text-anchor="middle" font-size="15.8">Pressure(hPa)</text>
<text x="3.6" y="28.3" font-size="14.8">(a)</text>
<g fill="#000"><path d="M196.4 11.07L208.8 11.07L208.8 12.15L214 10.5L208.8 8.85L208.8 9.93L196.4 9.93Z"/></g>
<text x="221.6" y="14.1" style="font-family:'DejaVu Sans','Liberation Sans',sans-serif" font-size="10.1">5 m/s</text>
<clipPath id="cp2"><rect x="303.5" y="23.3" width="204.2" height="186"/></clipPath>
<g clip-path="url(#cp2)">
<rect x="303.5" y="23.3" width="204.2" height="186" fill="#4406f0"/>
<path fill="#0808ff" fill-rule="evenodd" d="M303.5 23.3L309.9 23.3L316.3 23.3L322.6 23.3L329 23.3L335.4 23.3L341.8 23.3L348.2 23.3L354.5 23.3L360.9 23.3L367.3 23.3L373.7 23.3L380.1 23.3L386.4 23.3L392.8 23.3L399.2 23.3L405.6 23.3L412 23.3L418.3 23.3L424.7 23.3L431.1 23.3L437.5 23.3L443.9 23.3L450.2 23.3L456.6 23.3L463 23.3L469.4 23.3L475.8 23.3L482.1 23.3L488.5 23.3L494.9 23.3L501.3 23.3L507.7 23.3L507.7 34.8L507.7 68.4L507.7 84L507.7 100.3L507.7 114.5L507.7 130.5L507.7 145.1L507.7 159L507.7 173.5L507.7 187.1L507.7 200.5L507.7 209.3L501.3 209.3L494.9 209.3L488.5 209.3L482.1 209.3L475.8 209.3L469.4 209.3L463 209.3L456.6 209.3L450.2 209.3L443.9 209.3L437.5 209.3L431.1 209.3L424.7 209.3L418.3 209.3L412 209.3L405.6 209.3L399.2 209.3L392.8 209.3L386.4 209.3L380.1 209.3L373.7 209.3L367.3 209.3L360.9 209.3L354.5 209.3L348.2 209.3L341.8 209.3L335.4 209.3L329 209.3L322.6 209.3L316.3 209.3L309.9 209.3L303.5 209.3L303.5 200.5L303.5 187.1L303.5 173.5L303.5 159L303.5 145.1L303.5 130.5L303.5 114.5L303.5 100.3L303.5 84L303.5 68.4L303.5 34.8Z"/>
<path fill="#0040ff" fill-rule="evenodd" d="M303.5 34.8L303.5 30.5L309.9 32.1L316.3 33.8L322.6 34.3L329 34.8L329 34.8L335.4 39.5L341.8 42.7L348.2 45.1L354.5 47.8L360.9 47.4L367.3 47.1L373.7 42.4L380.1 40.4L386.4 38.8L392.8 37.6L394.8 34.8L396.2 23.3L399.2 23.3L405.6 23.3L412 23.3L418.3 23.3L424.7 23.3L431.1 23.3L437.5 23.3L443.9 23.3L450.2 23.3L456.6 23.3L463 23.3L469.4 23.3L475.8 23.3L482.1 23.3L488.5 23.3L494.9 23.3L501.3 23.3L507.7 23.3L507.7 34.8L507.7 68.4L507.7 84L507.7 100.3L507.7 114.5L507.7 118.5L501.3 130.5L501.3 130.5L501.3 130.5L502.2 145.1L506.5 159L505.7 173.5L507.7 178.9L507.7 187.1L507.7 200.5L507.7 209.3L501.3 209.3L494.9 209.3L488.5 209.3L482.1 209.3L475.8 209.3L469.4 209.3L463 209.3L456.6 209.3L450.2 209.3L443.9 209.3L437.5 209.3L431.1 209.3L424.7 209.3L418.3 209.3L412 209.3L405.6 209.3L399.2 209.3L392.8 209.3L386.4 209.3L380.1 209.3L373.7 209.3L367.3 209.3L360.9 209.3L354.5 209.3L348.2 209.3L341.8 209.3L335.4 209.3L329 209.3L322.6 209.3L316.3 209.3L309.9 209.3L303.5 209.3L303.5 200.5L303.5 187.1L303.5 173.5L303.5 159L303.5 145.1L303.5 130.5L303.5 114.5L303.5 100.3L303.5 84L303.5 68.4Z"/>
<path fill="#0070ff" fill-rule="evenodd" d="M401.8 23.3L405.6 23.3L412 23.3L418.3 23.3L424.7 23.3L431.1 23.3L437.5 23.3L443.9 23.3L450.2 23.3L456.6 23.3L463 23.3L469.4 23.3L475.8 23.3L482.1 23.3L488.5 23.3L494.9 23.3L501.3 23.3L507.7 23.3L507.7 23.3L507.7 34.8L507.7 68.4L507.7 77.8L503.4 84L501.3 89.4L494.9 100.3L494.9 100.3L491.3 114.5L489.4 130.5L491.7 145.1L494.9 149.7L499.5 159L499.8 173.5L501.3 177.6L504.7 187.1L507.7 195.1L507.7 200.5L507.7 209.3L501.3 209.3L494.9 209.3L488.5 209.3L482.1 209.3L475.8 209.3L469.4 209.3L463 209.3L456.6 209.3L450.2 209.3L443.9 209.3L437.5 209.3L431.1 209.3L424.7 209.3L418.3 209.3L412 209.3L405.6 209.3L399.2 209.3L392.8 209.3L386.4 209.3L380.1 209.3L373.7 209.3L367.3 209.3L360.9 209.3L354.5 209.3L348.2 209.3L341.8 209.3L335.4 209.3L329 209.3L322.6 209.3L316.3 209.3L309.9 209.3L303.5 209.3L303.5 200.5L303.5 187.1L303.5 173.5L303.5 159L303.5 145.1L303.5 130.5L303.5 114.5L303.5 100.3L303.5 84L303.5 68.4L303.5 64.7L309.9 65.6L316.3 66.5L322.6 64.9L329 63.6L335.4 62.9L341.8 62.5L348.2 65.8L352.9 68.4L354.5 69.6L360.9 68.5L361.8 68.4L367.3 67.7L373.7 54.3L380.1 48.8L386.4 46L392.8 43.9L399.2 35.2L399.4 34.8Z"/>
<path fill="#0088ff" fill-rule="evenodd" d="M404 34.8L405.6 29L409.8 23.3L412 23.3L418.3 23.3L424.7 23.3L431.1 23.3L437.5 23.3L443.9 23.3L450.2 23.3L456.6 23.3L463 23.3L469.4 23.3L475.8 23.3L482.1 23.3L488.5 23.3L490.6 23.3L494.9 34.8L494.9 34.8L500 68.4L494.9 76.2L491.7 84L488.5 90.5L482.1 100.3L482.1 100.3L481.2 114.5L478.5 130.5L482.1 145.1L482.1 145.1L488.5 156.2L490.6 159L493.5 173.5L494.9 176.2L498.8 187.1L501.3 198.3L502 200.5L504.5 209.3L501.3 209.3L494.9 209.3L488.5 209.3L482.1 209.3L475.8 209.3L469.4 209.3L463 209.3L456.6 209.3L450.2 209.3L443.9 209.3L437.5 209.3L431.1 209.3L424.7 209.3L418.3 209.3L412 209.3L405.6 209.3L399.2 209.3L392.8 209.3L386.4 209.3L380.1 209.3L373.7 209.3L367.3 209.3L360.9 209.3L354.5 209.3L348.2 209.3L341.8 209.3L335.4 209.3L329 209.3L322.6 209.3L316.3 209.3L309.9 209.3L303.5 209.3L303.5 200.5L303.5 187.1L303.5 187.1L303.5 187.1L303.5 173.5L303.5 159L303.5 145.1L303.5 130.5L303.5 114.5L303.5 109.8L309.9 112.1L316.3 114.5L316.3 114.5L322.6 117L329 117.7L334.1 114.5L335.4 111L341.8 100.3L341.8 100.3L348.2 94.9L354.5 92.2L360.9 85L362.2 84L367.3 80L372.7 68.4L373.7 66.2L380.1 57.2L386.4 53.3L392.8 50.3L399.2 42.4Z"/>
<path fill="#00a0ff" fill-rule="evenodd" d="M410.7 34.8L412 32.9L418.3 26.2L421.5 23.3L424.7 23.3L431.1 23.3L437.5 23.3L443.9 23.3L450.2 23.3L456.6 23.3L463 23.3L469.4 23.3L475.8 23.3L478.9 23.3L482.1 34.8L482.1 34.8L487.6 68.4L482.1 84L482.1 84L477 100.3L475.8 114.5L475.8 114.5L469.4 128.5L468.7 130.5L469.4 145.1L469.4 145.1L475.8 157L477 159L482.1 166.2L485 173.5L488.5 179L492.7 187.1L494 200.5L494.9 209.3L488.5 209.3L482.1 209.3L475.8 209.3L469.4 209.3L463 209.3L456.6 209.3L450.2 209.3L443.9 209.3L437.5 209.3L431.1 209.3L424.7 209.3L418.3 209.3L412 209.3L405.6 209.3L399.2 209.3L392.8 209.3L386.4 209.3L380.1 209.3L373.7 209.3L367.3 209.3L360.9 209.3L354.5 209.3L348.2 209.3L341.8 209.3L335.4 209.3L329 209.3L322.6 209.3L316.3 209.3L309.9 209.3L303.5 209.3L307.8 200.5L309.9 193.8L313.1 187.1L316.3 173.5L316.3 173.5L316.3 159L316.3 145.1L322.6 132.1L323.9 130.5L329 127.3L335.4 121.5L341.8 117.7L348.2 114.5L348.2 114.5L354.5 107.4L358.8 100.3L360.9 97.2L367.3 90.5L371.6 84L373.7 79.5L378.2 68.4L380.1 65.6L386.4 60.5L392.8 56.7L399.2 49.7L405.6 40.4Z"/>
<path fill="#00c4ff" fill-rule="evenodd" d="M418.3 34.8L424.7 29L431.1 23.3L431.1 23.3L437.5 23.3L443.9 23.3L450.2 23.3L456.6 23.3L463 23.3L469.4 23.3L469.4 23.3L472.6 34.8L475.8 45.1L479.6 68.4L477.6 84L475.8 89.8L471.9 100.3L470.3 114.5L469.4 116.5L464.7 130.5L464.6 145.1L465.1 159L469.4 163.8L475.8 171.3L477 173.5L482.1 180.9L485.9 187.1L488.5 198.1L488.9 200.5L492.5 209.3L488.5 209.3L482.1 209.3L475.8 209.3L469.4 209.3L463 209.3L456.6 209.3L450.2 209.3L443.9 209.3L437.5 209.3L431.1 209.3L424.7 209.3L418.3 209.3L412 209.3L405.6 209.3L399.2 209.3L392.8 209.3L386.4 209.3L380.1 209.3L373.7 209.3L367.3 209.3L360.9 209.3L354.5 209.3L348.2 209.3L341.8 209.3L335.4 209.3L329 209.3L322.6 209.3L316.3 209.3L309.9 209.3L309 209.3L309.9 207.5L314.1 200.5L316.3 196L320.1 187.1L321.7 173.5L322.6 159L322.6 159L325.8 145.1L329 140.2L334.1 130.5L335.4 129.2L341.8 124.1L348.2 121.6L354.5 118.5L358 114.5L360.9 109.4L367.3 100.3L367.3 100.3L373.7 88.2L377.9 84L380.1 78.8L385.7 68.4L386.4 67.8L392.8 63.1L399.2 56.9L405.6 48.8L412 41.5L418.3 34.8Z"/>
<path fill="#00e4ff" fill-rule="evenodd" d="M427.9 34.8L431.1 31.9L437.5 26.6L440.7 23.3L443.9 23.3L450.2 23.3L456.6 23.3L459.8 23.3L463 34.8L463 34.8L469.4 48.2L474.5 68.4L473.1 84L469.4 94.2L467.5 100.3L465.8 114.5L463 123L460.6 130.5L459.8 145.1L456.6 159L456.6 159L456.6 159L463 170.9L469.4 173.5L469.4 173.5L475.8 183.4L478.5 187.1L482.1 194.7L483.8 200.5L488.5 205.6L490.1 209.3L488.5 209.3L482.1 209.3L475.8 209.3L469.4 209.3L463 209.3L456.6 209.3L450.2 209.3L443.9 209.3L437.5 209.3L431.1 209.3L424.7 209.3L418.3 209.3L412 209.3L405.6 209.3L399.2 209.3L392.8 209.3L386.4 209.3L380.1 209.3L373.7 209.3L367.3 209.3L360.9 209.3L354.5 209.3L348.2 209.3L341.8 209.3L335.4 209.3L329 209.3L322.6 209.3L316.3 209.3L314.4 209.3L316.3 206.4L320.5 200.5L322.6 195.4L325.8 187.1L327.2 173.5L329 159L329 159L335.4 149.7L337.5 145.1L341.8 130.5L341.8 130.5L348.2 128.7L354.5 126.5L360.9 119.8L365 114.5L367.3 111L370.6 100.3L373.7 94.5L380.1 87.1L384 84L386.4 79.1L392.8 70L394.2 68.4L399.2 64.2L405.6 57.2L412 49.6L418.3 42.6L424.7 37.2Z"/>
<path fill="#08fff4" fill-rule="evenodd" d="M439.6 34.8L443.9 31L450.2 34.8L450.2 34.8L456.6 39.3L463 50.9L469.4 68.4L468.7 84L463.6 100.3L463 105L461.6 114.5L456.6 130.5L456.6 130.5L455.9 145.1L453.4 159L452.4 173.5L450.8 187.1L456.6 196.7L463 190.4L468.4 187.1L469.4 186.2L469.9 187.1L475.8 189.6L481 200.5L482.1 201.7L488.1 209.3L482.1 209.3L475.8 209.3L469.4 209.3L463 209.3L456.6 209.3L450.2 209.3L443.9 209.3L437.5 209.3L431.1 209.3L424.7 209.3L418.3 209.3L412 209.3L405.6 209.3L399.2 209.3L392.8 209.3L386.4 209.3L380.1 209.3L373.7 209.3L367.3 209.3L360.9 209.3L354.5 209.3L348.2 209.3L341.8 209.3L335.4 209.3L329 209.3L322.6 209.3L319.4 209.3L322.6 204.9L326.9 200.5L329 194.7L331.5 187.1L335.4 177.1L339.2 173.5L341.8 168.7L348.2 169.9L354.5 173.5L354.5 173.5L354.5 173.5L356.7 159L357.7 145.1L359.3 130.5L360.9 129L367.3 122.5L369.6 114.5L373.7 101.2L374 100.3L380.1 91.8L386.4 86.9L389.9 84L392.8 79.3L399.2 71.8L402.7 68.4L405.6 65.6L412 57.6L418.3 50.3L424.7 44.4L431.1 39.3L437.5 36Z"/>
<path fill="#00ffb0" fill-rule="evenodd" d="M409.8 68.4L412 65.7L418.3 58.1L424.7 51.6L431.1 46L437.5 43.5L443.9 40.4L450.2 45.1L456.6 52.7L463 67.1L463.5 68.4L464.4 84L463 88.7L459.8 100.3L457.3 114.5L456.6 116.8L454.6 130.5L453.9 145.1L450.2 159L450.2 159L446 173.5L443.9 187.1L443.9 187.1L443.9 187.1L450.2 198.4L451.5 200.5L456.6 206.4L461.7 200.5L463 199.1L469.4 193.6L475.8 193.2L479.2 200.5L482.1 203.4L486.7 209.3L482.1 209.3L475.8 209.3L469.4 209.3L463 209.3L456.6 209.3L450.2 209.3L443.9 209.3L437.5 209.3L431.1 209.3L424.7 209.3L418.3 209.3L412 209.3L405.6 209.3L399.2 209.3L392.8 209.3L386.4 209.3L380.1 209.3L373.7 209.3L367.3 209.3L360.9 209.3L354.5 209.3L348.2 209.3L341.8 209.3L335.4 209.3L329 209.3L324.2 209.3L329 204L332 200.5L335.4 190.9L337.1 187.1L341.8 180.3L348.2 185L349.8 187.1L354.5 195.1L355.7 187.1L360.9 175.3L361.5 173.5L362.5 159L367.3 145.1L367.3 145.1L367.7 130.5L373.1 114.5L373.7 112.6L377.3 100.3L380.1 96.4L386.4 91.7L392.8 86.6L396 84L399.2 79.9L405.6 73.2Z"/>
<path fill="#00ff70" fill-rule="evenodd" d="M416.2 68.4L418.3 65.8L424.7 58.8L431.1 52.7L437.5 51L443.9 48.8L450.2 55.5L456.6 66.2L457.6 68.4L460.2 84L456.6 97.6L456.3 100.3L454.9 114.5L452.5 130.5L451.8 145.1L450.2 151.1L447.1 159L443.9 167.7L443.3 173.5L442.7 187.1L443.9 200.5L443.9 200.5L450.2 207.8L451.5 209.3L450.2 209.3L443.9 209.3L437.5 209.3L431.1 209.3L424.7 209.3L418.3 209.3L412 209.3L405.6 209.3L399.2 209.3L392.8 209.3L386.4 209.3L380.1 209.3L373.7 209.3L367.3 209.3L360.9 209.3L354.5 209.3L348.2 209.3L341.8 209.3L335.4 209.3L329 209.3L335.4 201.5L336.5 200.5L341.8 188.8L348.2 197.4L349.9 200.5L354.5 204.9L355.9 200.5L358 187.1L360.9 180.5L363.2 173.5L364.9 159L367.3 152.1L368.6 145.1L369 130.5L373.7 117.5L376.6 114.5L380.1 102.3L381.2 100.3L386.4 96.6L392.8 91.7L399.2 86.9L402.4 84L405.6 80.4L412 72.7ZM469.4 200.5L475.8 196.9L477.5 200.5L482.1 205.2L485.3 209.3L482.1 209.3L475.8 209.3L469.4 209.3L463 209.3L458.6 209.3L463 203.6L469.4 200.5Z"/>
<path fill="#00ff14" fill-rule="evenodd" d="M422.6 68.4L424.7 66L431.1 59.4L437.5 58.4L443.9 57.2L450.2 65.8L451.7 68.4L456.1 84L454.1 100.3L452.8 114.5L450.4 130.5L450.2 134.2L449.7 145.1L443.9 159L443.9 159L442.5 173.5L441.6 187.1L441.3 200.5L443.9 209.3L437.5 209.3L431.1 209.3L424.7 209.3L418.3 209.3L412 209.3L405.6 209.3L399.2 209.3L392.8 209.3L386.4 209.3L380.1 209.3L373.7 209.3L367.3 209.3L360.9 209.3L355.3 209.3L357.9 200.5L360.3 187.1L360.9 185.8L365 173.5L367.3 159L367.3 159L369.9 145.1L370.3 130.5L373.7 121L380.1 114.5L380.1 114.5L386.4 102.8L388.2 100.3L392.8 96.9L399.2 92.6L405.6 87.3L408.1 84L412 79.2L418.3 72.3ZM341 200.5L341.8 198.8L342.9 200.5L348.2 203.7L353.3 209.3L348.2 209.3L341.8 209.3L335.4 209.3L332.2 209.3L335.4 205.4ZM461.5 209.3L463 207.4L469.4 202.9L475.8 200.5L482.1 207L484 209.3L482.1 209.3L475.8 209.3L469.4 209.3L463 209.3Z"/>
<path fill="#34ff00" fill-rule="evenodd" d="M429 68.4L431.1 66.2L437.5 65.9L443.9 65.6L445.8 68.4L450.2 76.2L452.7 84L452 100.3L450.8 114.5L450.2 117.9L448.3 130.5L447.7 145.1L443.9 154.1L442.9 159L441.6 173.5L440.5 187.1L438.8 200.5L440.7 209.3L437.5 209.3L431.1 209.3L424.7 209.3L418.3 209.3L412 209.3L405.6 209.3L399.2 209.3L392.8 209.3L386.4 209.3L380.1 209.3L373.7 209.3L367.3 209.3L360.9 209.3L357.5 209.3L359.9 200.5L360.9 195.1L362 187.1L366.7 173.5L367.3 169.9L368.1 159L371.1 145.1L371.6 130.5L373.7 124.6L380.1 117.9L385.5 114.5L386.4 112.8L392.8 103.1L396 100.3L399.2 98.4L405.6 93.8L412 85.4L413.2 84L418.3 78.2L424.7 71.9ZM335.4 209.3L341.8 203.1L348.2 207.9L349.4 209.3L348.2 209.3L341.8 209.3ZM464.5 209.3L469.4 205.3L475.8 202.1L482.1 208.7L482.6 209.3L482.1 209.3L475.8 209.3L469.4 209.3Z"/>
<path fill="#8cff00" fill-rule="evenodd" d="M418.3 84L424.7 77.1L431.1 71.5L437.5 72.1L443.9 72.9L449.4 84L449.9 100.3L448.7 114.5L446.3 130.5L445.6 145.1L443.9 149.2L442 159L440.8 173.5L439.4 187.1L437.5 197.4L436.2 200.5L437.5 209.3L431.1 209.3L424.7 209.3L418.3 209.3L412 209.3L405.6 209.3L399.2 209.3L392.8 209.3L386.4 209.3L380.1 209.3L373.7 209.3L367.3 209.3L360.9 209.3L359.8 209.3L360.9 204.9L361.9 200.5L363.4 187.1L367.3 176.2L367.8 173.5L369 159L372.4 145.1L372.8 130.5L373.7 128.1L380.1 121.4L386.4 118L391 114.5L392.8 111.7L399.2 106.3L405.6 100.3L405.6 100.3L412 90.8L418.3 84ZM338.6 209.3L341.8 206.2L345.6 209.3L341.8 209.3ZM467.4 209.3L469.4 207.7L475.8 203.6L481.2 209.3L475.8 209.3L469.4 209.3Z"/>
<path fill="#c4ff00" fill-rule="evenodd" d="M423.1 84L424.7 82.3L431.1 76.2L437.5 77.6L443.9 79.5L446.1 84L447.8 100.3L446.6 114.5L444.2 130.5L443.9 137.8L443.6 145.1L441.1 159L440 173.5L438.2 187.1L437.5 191.2L433.7 200.5L434.3 209.3L431.1 209.3L424.7 209.3L418.3 209.3L412 209.3L405.6 209.3L399.2 209.3L392.8 209.3L386.4 209.3L380.1 209.3L373.7 209.3L367.3 209.3L362 209.3L363.9 200.5L364.9 187.1L367.3 180.3L368.6 173.5L369.8 159L373.7 145.1L373.7 145.1L374.7 130.5L380.1 124.8L386.4 122.2L392.8 118.1L399.2 115.1L400.1 114.5L405.6 109.8L409.2 100.3L412 96.2L418.3 88.7ZM470.1 209.3L475.8 205.2L479.7 209.3L475.8 209.3Z"/>
<path fill="#e8ff00" fill-rule="evenodd" d="M427.9 84L431.1 80.9L437.5 83.1L439.6 84L443.9 88.7L445.6 100.3L444.5 114.5L443.9 119.1L442.5 130.5L442.3 145.1L440.2 159L439.1 173.5L437.5 185.2L435.4 187.1L431.1 200.5L431.1 200.5L431.1 209.3L424.7 209.3L418.3 209.3L412 209.3L405.6 209.3L399.2 209.3L392.8 209.3L386.4 209.3L380.1 209.3L373.7 209.3L367.3 209.3L364.3 209.3L366 200.5L366.3 187.1L367.3 184.4L369.4 173.5L370.6 159L373.7 148.1L375.8 145.1L377.9 130.5L380.1 128.2L386.4 126.3L392.8 123.4L399.2 122.8L405.6 121.4L407.2 114.5L412 102.3L412.9 100.3L418.3 93.3L424.7 87.3ZM472.2 209.3L475.8 206.7L478.2 209.3L475.8 209.3Z"/>
<path fill="#ffff00" fill-rule="evenodd" d="M416.5 100.3L418.3 98L424.7 92.4L431.1 85.8L437.5 90.5L443.1 100.3L442.2 114.5L440.9 130.5L441 145.1L439.3 159L438.3 173.5L437.5 179.3L431.1 185.4L428.5 187.1L425.6 200.5L425.6 209.3L424.7 209.3L418.3 209.3L412 209.3L405.6 209.3L399.2 209.3L392.8 209.3L386.4 209.3L380.1 209.3L373.7 209.3L367.3 209.3L366.5 209.3L367.3 204.9L367.6 200.5L367.6 187.1L370.2 173.5L371.5 159L373.7 151.1L377.9 145.1L380.1 134.2L386.4 130.5L386.4 130.5L392.8 128.7L399.2 130.5L399.2 130.5L405.6 132L406.4 130.5L410.4 114.5L412 110.4ZM474.3 209.3L475.8 208.3L476.7 209.3L475.8 209.3Z"/>
<path fill="#ffd41c" fill-rule="evenodd" d="M421.3 100.3L424.7 97.4L431.1 91.2L437.5 98.3L438.6 100.3L439.6 114.5L439.2 130.5L439.7 145.1L438.4 159L437.5 173.5L437.5 173.5L431.1 180.3L424.7 184L420.9 187.1L420.2 200.5L420.2 209.3L418.3 209.3L412 209.3L405.6 209.3L399.2 209.3L392.8 209.3L386.4 209.3L380.1 209.3L373.7 209.3L367.8 209.3L368.3 200.5L368.6 187.1L371 173.5L372.3 159L373.7 154L380.1 145.1L386.4 159L386.4 159L392.8 163.8L394.6 159L394.6 145.1L399.2 138.5L405.6 136.3L408.8 130.5L412 118.9L413.6 114.5L418.3 103.8Z"/>
<path fill="#ffa81c" fill-rule="evenodd" d="M427.2 100.3L431.1 96.7L434.1 100.3L437.1 114.5L437.5 125.2L437.6 130.5L438.4 145.1L437.5 159L437.5 159L432.7 173.5L431.1 175.2L424.7 177.7L418.3 181.7L413.2 187.1L413.2 200.5L413.2 209.3L412 209.3L405.6 209.3L399.2 209.3L392.8 209.3L386.4 209.3L380.1 209.3L373.7 209.3L368.6 209.3L369.1 200.5L369.5 187.1L371.8 173.5L373.1 159L373.7 157L380.1 150.3L384 159L386.4 164.4L392.8 171.1L397.4 159L399.2 147.9L400.1 145.1L405.6 140.7L411.2 130.5L412 127.6L416.7 114.5L418.3 111L424.7 103.5Z"/>
<path fill="#ff7c10" fill-rule="evenodd" d="M421.8 114.5L424.7 111.3L431.1 103.1L434.5 114.5L436 130.5L436.6 145.1L433.7 159L431.1 166.2L424.7 170.6L418.3 173.5L418.3 173.5L412 177.4L405.6 187.1L405.6 187.1L405.6 200.5L405.6 209.3L399.2 209.3L392.8 209.3L386.4 209.3L380.1 209.3L373.7 209.3L369.3 209.3L369.9 200.5L370.5 187.1L372.6 173.5L373.7 161.9L375.8 159L380.1 155.5L381.7 159L386.4 169.9L389.6 173.5L392.8 180.3L397.1 173.5L399.2 166.2L401.3 159L405.6 145.1L405.6 145.1L412 134.4L413.6 130.5L418.3 117.7Z"/>
<path fill="#ff5a00" fill-rule="evenodd" d="M428.8 114.5L431.1 111.7L432 114.5L434.4 130.5L433.8 145.1L431.1 155.5L427.9 159L424.7 161.9L418.3 166.2L412 163.8L408.8 159L409.1 145.1L412 140.2L415.9 130.5L418.3 124.1L424.7 119ZM373.4 173.5L373.7 170.6L380.1 161.4L385.4 173.5L386.4 175.2L392 187.1L392.8 193.8L396 200.5L399.2 209.3L392.8 209.3L386.4 209.3L380.1 209.3L373.7 209.3L370.1 209.3L370.6 200.5L371.4 187.1Z"/>
<path fill="#f43030" fill-rule="evenodd" d="M418.3 130.5L424.7 126.7L431.1 120.9L432.7 130.5L431.1 145.1L431.1 145.1L424.7 152.8L418.3 159L412.5 145.1L418.3 130.5ZM376.9 173.5L380.1 168.7L382.2 173.5L386.4 180.3L389.6 187.1L391.7 200.5L392.8 209.3L386.4 209.3L380.1 209.3L373.7 209.3L370.9 209.3L371.4 200.5L372.4 187.1L373.7 178Z"/>
<path fill="#e60000" fill-rule="evenodd" d="M416 145.1L418.3 139.3L423.4 145.1L418.3 150.7ZM373.4 187.1L373.7 184.8L380.1 176.2L386.4 185.4L387.2 187.1L389.9 200.5L391.1 209.3L386.4 209.3L380.1 209.3L373.7 209.3L371.6 209.3L372.1 200.5Z"/>
<path fill="#d80000" fill-rule="evenodd" d="M377.9 187.1L380.1 184.4L382.2 187.1L386.4 192.5L388.2 200.5L389.3 209.3L386.4 209.3L380.1 209.3L373.7 209.3L372.4 209.3L372.9 200.5L373.7 192.5Z"/>
<path fill="#c80000" fill-rule="evenodd" d="M373.7 200.5L380.1 193.8L386.4 200.5L386.4 200.5L387.6 209.3L386.4 209.3L380.1 209.3L373.7 209.3L373.2 209.3L373.7 200.5Z"/>
<g fill="#000">
<path d="M303.6 35.26L308.09 34.33L308.23 35.03L312.1 33L307.74 32.69L307.89 33.4L303.4 34.34Z"/>
<path d="M316.64 35.09L324.08 25.42L324.65 25.86L326.26 21.8L322.75 24.4L323.32 24.84L315.88 34.51Z"/>
<path d="M328.61 35.04L339.07 52.63L338.44 53L341.62 56L340.51 51.78L339.88 52.15L329.43 34.56Z"/>
<path d="M341.83 35.27L348.85 34.52L348.93 35.24L352.98 33.6L348.68 32.85L348.75 33.58L341.73 34.33Z"/>
<path d="M354.59 35.27L361.02 34.54L361.1 35.26L365.14 33.6L360.83 32.88L360.91 33.6L354.49 34.33Z"/>
<path d="M367.22 35.27L375.88 36.76L375.76 37.47L380.1 37L376.16 35.11L376.04 35.82L367.38 34.33Z"/>
<path d="M379.82 35.21L384.21 37.85L383.84 38.47L388.06 39.6L385.08 36.41L384.7 37.03L380.3 34.39Z"/>
<path d="M392.56 35.19L404.27 43.05L403.86 43.66L408.02 45L405.2 41.66L404.8 42.27L393.08 34.41Z"/>
<path d="M405.74 35.25L423.2 28.88L423.44 29.57L426.98 27L422.62 27.31L422.87 27.99L405.42 34.35Z"/>
<path d="M418.05 35.18L437.31 49.83L436.87 50.41L440.94 52L438.32 48.5L437.89 49.08L418.63 34.42Z"/>
<path d="M431.43 35.14L442.41 24.56L442.91 25.08L445.1 21.3L441.24 23.35L441.75 23.87L430.77 34.46Z"/>
<path d="M443.58 35.19L455.36 43.55L454.94 44.15L459.06 45.6L456.33 42.19L455.91 42.78L444.14 34.41Z"/>
<path d="M456.41 35.22L466.06 40.12L465.73 40.77L470.02 41.6L466.82 38.63L466.49 39.28L456.83 34.38Z"/>
<path d="M469.11 35.19L478.26 41.58L477.85 42.18L481.98 43.6L479.22 40.21L478.81 40.81L469.65 34.41Z"/>
<path d="M481.98 35.25L490.02 38.06L489.78 38.75L494.14 39L490.57 36.48L490.33 37.16L482.3 34.35Z"/>
<path d="M494.92 35.27L501.52 35.03L501.55 35.75L505.7 34.4L501.46 33.36L501.49 34.08L494.88 34.33Z"/>
<path d="M303.62 68.86L307.16 67.93L307.34 68.63L311.1 66.4L306.73 66.31L306.92 67.01L303.38 67.94Z"/>
<path d="M316.68 68.61L323.59 54.96L324.24 55.29L325.06 51L322.09 54.21L322.74 54.53L315.84 68.19Z"/>
<path d="M328.58 68.59L337.93 90.33L337.26 90.61L340.02 94L339.46 89.67L338.8 89.95L329.46 68.21Z"/>
<path d="M341.72 68.87L347.15 69.55L347.06 70.27L351.38 69.6L347.36 67.89L347.27 68.61L341.84 67.93Z"/>
<path d="M354.61 68.87L359.46 68.11L359.57 68.83L363.54 67L359.21 66.46L359.32 67.18L354.47 67.93Z"/>
<path d="M367.19 68.86L371.9 69.93L371.74 70.64L376.1 70.4L372.27 68.3L372.11 69.01L367.41 67.94Z"/>
<path d="M379.64 68.61L382.76 74.86L382.11 75.18L385.06 78.4L384.26 74.11L383.61 74.43L380.48 68.19Z"/>
<path d="M392.56 68.8L403.03 75.53L402.64 76.14L406.82 77.4L403.94 74.12L403.54 74.73L393.08 68Z"/>
<path d="M405.77 68.84L421.31 62.1L421.6 62.77L424.98 60L420.65 60.57L420.94 61.23L405.39 67.96Z"/>
<path d="M417.94 68.66L435.23 94.76L434.62 95.16L437.94 98L436.62 93.84L436.02 94.24L418.74 68.14Z"/>
<path d="M431.41 68.76L445.2 57.08L445.67 57.63L448.1 54L444.12 55.8L444.59 56.35L430.79 68.04Z"/>
<path d="M443.65 68.82L451.09 72.55L450.77 73.2L455.06 74L451.84 71.05L451.52 71.7L444.07 67.98Z"/>
<path d="M456.28 68.74L463.31 75.77L462.8 76.28L466.62 78.4L464.5 74.58L463.99 75.09L456.96 68.06Z"/>
<path d="M469.01 68.7L474.39 75.42L473.82 75.87L477.38 78.4L475.69 74.37L475.13 74.82L469.75 68.1Z"/>
<path d="M482.06 68.87L488.92 70.12L488.79 70.83L493.14 70.4L489.22 68.47L489.09 69.18L482.22 67.93Z"/>
<path d="M494.92 68.87L498.93 68.68L498.96 69.4L503.1 68L498.85 67.01L498.88 67.73L494.88 67.93Z"/>
<path d="M303.61 84.46L306.13 83.85L306.3 84.56L310.1 82.4L305.74 82.22L305.91 82.93L303.39 83.54Z"/>
<path d="M316.69 84.19L322.79 70.43L323.46 70.73L324.06 66.4L321.26 69.75L321.92 70.05L315.83 83.81Z"/>
<path d="M328.58 84.18L336.97 104.31L336.3 104.58L339.02 108L338.51 103.66L337.84 103.94L329.46 83.82Z"/>
<path d="M341.66 84.46L347.19 85.84L347.01 86.55L351.38 86.4L347.6 84.22L347.42 84.92L341.9 83.54Z"/>
<path d="M354.59 84.47L359.42 83.94L359.5 84.66L363.54 83L359.23 82.27L359.31 82.99L354.49 83.53Z"/>
<path d="M367.16 84.45L372.94 86.22L372.73 86.92L377.1 87L373.44 84.62L373.22 85.32L367.44 83.55Z"/>
<path d="M379.63 84.2L382.89 91.37L382.23 91.67L385.06 95L384.41 90.68L383.75 90.98L380.49 83.8Z"/>
<path d="M392.58 84.41L402.94 90.33L402.58 90.96L406.82 92L403.77 88.87L403.41 89.5L393.06 83.59Z"/>
<path d="M405.74 84.45L419.2 79.5L419.45 80.18L422.98 77.6L418.62 77.92L418.87 78.6L405.42 83.55Z"/>
<path d="M417.97 84.3L436.89 107.07L436.33 107.54L439.94 110L438.18 106L437.62 106.47L418.71 83.7Z"/>
<path d="M431.18 84.47L441.63 82.75L441.75 83.47L445.7 81.6L441.36 81.1L441.48 81.81L431.02 83.53Z"/>
<path d="M443.64 84.42L451.13 88.44L450.79 89.07L455.06 90L451.92 86.96L451.58 87.6L444.08 83.58Z"/>
<path d="M456.29 84.34L463.66 91.43L463.16 91.95L467.02 94L464.82 90.22L464.32 90.75L456.95 83.66Z"/>
<path d="M469 84.29L474.06 90.94L473.48 91.38L476.98 94L475.39 89.93L474.82 90.37L469.76 83.71Z"/>
<path d="M482 84.45L485.98 85.65L485.77 86.34L490.14 86.4L486.46 84.04L486.25 84.74L482.28 83.55Z"/>
<path d="M494.93 84.47L496.94 84.34L496.99 85.07L501.1 83.6L496.83 82.67L496.88 83.4L494.87 83.53Z"/>
<path d="M303.58 100.77L306.05 100.32L306.18 101.03L310.1 99.1L305.75 98.67L305.88 99.38L303.42 99.83Z"/>
<path d="M316.7 100.48L322.28 87.16L322.95 87.44L323.46 83.1L320.73 86.51L321.4 86.79L315.82 100.12Z"/>
<path d="M328.58 100.49L335.92 117.43L335.25 117.72L338.02 121.1L337.45 116.77L336.79 117.06L329.46 100.11Z"/>
<path d="M341.64 100.75L346.43 102.28L346.21 102.97L350.58 103.1L346.94 100.68L346.72 101.37L341.92 99.85Z"/>
<path d="M354.57 100.77L358.59 100.48L358.64 101.2L362.74 99.7L358.46 98.81L358.52 99.53L354.51 99.83Z"/>
<path d="M367.16 100.75L371.95 102.28L371.73 102.97L376.1 103.1L372.46 100.68L372.24 101.37L367.44 99.85Z"/>
<path d="M379.61 100.44L382.35 109.23L381.66 109.45L384.06 113.1L383.95 108.73L383.26 108.95L380.51 100.16Z"/>
<path d="M392.75 100.77L400.8 101.96L400.69 102.67L405.02 102.1L401.04 100.3L400.93 101.02L392.89 99.83Z"/>
<path d="M405.74 100.75L419.18 95.96L419.43 96.64L422.98 94.1L418.62 94.38L418.86 95.06L405.42 99.85Z"/>
<path d="M418.01 100.64L433.58 115.54L433.08 116.06L436.94 118.1L434.74 114.33L434.23 114.85L418.67 99.96Z"/>
<path d="M430.78 100.65L439.66 108.64L439.18 109.18L443.1 111.1L440.78 107.4L440.3 107.94L431.42 99.95Z"/>
<path d="M443.63 100.71L450.17 104.44L449.82 105.07L454.06 106.1L451 102.98L450.64 103.61L444.09 99.89Z"/>
<path d="M456.22 100.55L461.39 108.79L460.77 109.18L464.02 112.1L462.81 107.9L462.19 108.29L457.02 100.05Z"/>
<path d="M468.97 100.54L472.48 106.69L471.85 107.05L474.98 110.1L473.94 105.86L473.31 106.22L469.79 100.06Z"/>
<path d="M481.98 100.75L484.03 101.5L483.78 102.18L488.14 102.5L484.61 99.93L484.36 100.61L482.3 99.85Z"/>
<path d="M494.95 100.77L495.98 100.65L496.07 101.37L500.1 99.7L495.79 98.99L495.87 99.71L494.85 99.83Z"/>
<path d="M303.46 114.97L305.87 115.19L305.81 115.91L310.1 115.1L306.03 113.52L305.96 114.25L303.54 114.03Z"/>
<path d="M316.69 114.7L321.7 104.1L322.35 104.41L323.06 100.1L320.18 103.39L320.84 103.7L315.83 114.3Z"/>
<path d="M328.58 114.68L335.02 130.78L334.35 131.05L337.02 134.5L336.57 130.15L335.9 130.42L329.46 114.32Z"/>
<path d="M341.56 114.92L346.64 117.58L346.3 118.22L350.58 119.1L347.41 116.09L347.08 116.73L342 114.08Z"/>
<path d="M354.43 114.96L358.94 116.01L358.78 116.72L363.14 116.5L359.32 114.38L359.16 115.09L354.65 114.04Z"/>
<path d="M366.98 114.85L372.67 120.03L372.19 120.56L376.1 122.5L373.8 118.79L373.31 119.32L367.62 114.15Z"/>
<path d="M379.6 114.6L381.72 124.49L381.01 124.64L383.06 128.5L383.35 124.14L382.64 124.29L380.52 114.4Z"/>
<path d="M392.88 114.97L399.91 114.09L400 114.81L404.02 113.1L399.7 112.43L399.79 113.15L392.76 114.03Z"/>
<path d="M405.68 114.97L417.96 112.42L418.11 113.13L421.98 111.1L417.62 110.78L417.77 111.49L405.48 114.03Z"/>
<path d="M418.05 114.87L432.73 126.3L432.29 126.87L436.34 128.5L433.76 124.97L433.32 125.55L418.63 114.13Z"/>
<path d="M430.77 114.84L437.74 121.53L437.24 122.06L441.1 124.1L438.9 120.33L438.4 120.85L431.43 114.16Z"/>
<path d="M443.57 114.87L447.45 117.9L447.01 118.47L451.06 120.1L448.48 116.57L448.04 117.15L444.15 114.13Z"/>
<path d="M456.2 114.72L459.69 121.57L459.04 121.9L462.02 125.1L461.18 120.81L460.54 121.14L457.04 114.28Z"/>
<path d="M468.95 114.71L471.74 120.52L471.08 120.83L473.98 124.1L473.25 119.79L472.59 120.11L469.81 114.29Z"/>
<path d="M481.86 114.89L483.45 116.03L483.03 116.62L487.14 118.1L484.43 114.67L484.01 115.26L482.42 114.11Z"/>
<path d="M494.73 114.94L495.01 115.05L494.75 115.73L499.1 116.1L495.6 113.48L495.34 114.16L495.07 114.06Z"/>
<path d="M307.1 131.1L303.33 131.53L303.67 129.47Z"/>
<path d="M316.71 130.66L319.27 123.61L319.95 123.86L320.26 119.5L317.7 123.04L318.38 123.28L315.81 130.34Z"/>
<path d="M328.59 130.7L331.79 137.41L331.13 137.72L334.02 141L333.3 136.69L332.64 137L329.45 130.3Z"/>
<path d="M341.39 130.77L344.22 134.9L343.62 135.31L346.98 138.1L345.6 133.96L345 134.37L342.17 130.23Z"/>
<path d="M354.31 130.91L355.25 131.45L354.89 132.08L359.14 133.1L356.07 129.99L355.72 130.62L354.77 130.09Z"/>
<path d="M366.93 130.79L371.12 136.1L370.55 136.55L374.1 139.1L372.44 135.06L371.87 135.51L367.67 130.21Z"/>
<path d="M379.59 130.55L380.67 141.37L379.95 141.44L381.56 145.5L382.34 141.2L381.61 141.27L380.53 130.45Z"/>
<path d="M392.92 130.96L400.01 129.44L400.16 130.15L404.02 128.1L399.66 127.81L399.81 128.52L392.72 130.04Z"/>
<path d="M405.71 130.96L417.07 127.71L417.27 128.41L420.98 126.1L416.61 126.1L416.81 126.8L405.45 130.04Z"/>
<path d="M418.25 130.97L427.73 132.78L427.59 133.49L431.94 133.1L428.04 131.13L427.9 131.84L418.43 130.03Z"/>
<path d="M430.65 130.66L437.22 148.72L436.54 148.96L439.1 152.5L438.79 148.14L438.11 148.39L431.55 130.34Z"/>
<path d="M443.47 130.77L446.3 134.9L445.7 135.31L449.06 138.1L447.68 133.96L447.08 134.37L444.25 130.23Z"/>
<path d="M456.16 130.63L458.38 138.2L457.69 138.41L460.02 142.1L459.99 137.73L459.29 137.94L457.08 130.37Z"/>
<path d="M468.92 130.62L470.42 136.17L469.72 136.36L471.98 140.1L472.04 135.73L471.34 135.92L469.84 130.38Z"/>
<path d="M481.72 130.72L482.74 132.62L482.1 132.96L485.14 136.1L484.21 131.83L483.58 132.17L482.56 130.28Z"/>
<path d="M495.9 130L495.04 130.79L494.76 130.21Z"/>
<path d="M307.1 147.1L302.93 146.13L304.07 144.07Z"/>
<path d="M316.68 145.33L318.47 142.02L319.11 142.36L320.06 138.1L317 141.22L317.64 141.56L315.84 144.87Z"/>
<path d="M328.68 145.44L330.71 147.47L330.2 147.98L334.02 150.1L331.9 146.28L331.39 146.79L329.36 144.76Z"/>
<path d="M341.38 145.36L344.29 149.84L343.68 150.23L346.98 153.1L345.7 148.92L345.09 149.32L342.18 144.84Z"/>
<path d="M354.23 145.46L355.66 146.7L355.18 147.25L359.14 149.1L356.76 145.44L356.28 145.99L354.85 144.74Z"/>
<path d="M366.88 145.32L370.72 152.61L370.08 152.94L373.1 156.1L372.2 151.83L371.56 152.16L367.72 144.88Z"/>
<path d="M379.59 145.13L380.31 155.94L379.58 155.99L381.06 160.1L381.98 155.83L381.25 155.88L380.53 145.07Z"/>
<path d="M396.82 144.1L393.11 146.24L392.53 143.96Z"/>
<path d="M430.65 145.26L437.27 164.29L436.59 164.53L439.1 168.1L438.85 163.74L438.17 163.98L431.55 144.94Z"/>
<path d="M443.41 145.24L445.33 151.24L444.64 151.47L447.06 155.1L446.92 150.73L446.23 150.96L444.31 144.96Z"/>
<path d="M456.15 145.16L457.02 151.99L456.3 152.09L458.02 156.1L458.68 151.78L457.96 151.87L457.09 145.04Z"/>
<path d="M468.91 145.15L469.49 150.97L468.77 151.04L470.38 155.1L471.16 150.8L470.43 150.87L469.85 145.05Z"/>
<path d="M481.67 145.17L482.08 148.01L481.36 148.11L483.14 152.1L483.73 147.77L483.02 147.88L482.61 145.03Z"/>
<path d="M495.5 147.1L494.33 145.27L495.47 144.93Z"/>
<path d="M303.2 159.36L303.57 159.68L303.11 160.23L307.1 162L304.64 158.39L304.18 158.95L303.8 158.64Z"/>
<path d="M316.55 159.37L317.06 158.98L317.51 159.54L320.06 156L316.02 157.66L316.47 158.23L315.97 158.63Z"/>
<path d="M328.84 159.44L329.94 159.88L329.67 160.55L334.02 161L330.57 158.33L330.3 159L329.2 158.56Z"/>
<path d="M341.37 159.24L344.47 164.6L343.84 164.96L346.98 168L345.92 163.76L345.29 164.13L342.19 158.76Z"/>
<path d="M354.22 159.35L356.69 161.56L356.21 162.1L360.14 164L357.81 160.31L357.32 160.85L354.86 158.65Z"/>
<path d="M366.86 159.18L370.1 167.28L369.43 167.55L372.1 171L371.65 166.65L370.98 166.92L367.74 158.82Z"/>
<path d="M379.59 159.03L380.31 169.84L379.58 169.89L381.06 174L381.98 169.73L381.25 169.78L380.53 158.97Z"/>
<path d="M430.67 159.2L435.89 170.39L435.24 170.7L438.1 174L437.41 169.69L436.75 169.99L431.53 158.8Z"/>
<path d="M443.39 159.05L444.13 165.88L443.41 165.95L445.06 170L445.8 165.69L445.08 165.77L444.33 158.95Z"/>
<path d="M456.15 159.02L456.39 165.82L455.67 165.85L457.02 170L458.07 165.76L457.34 165.79L457.09 158.98Z"/>
<path d="M468.91 158.98L468.66 165.79L467.93 165.76L468.98 170L470.33 165.85L469.61 165.82L469.85 159.02Z"/>
<path d="M481.66 159L481.66 163.8L480.94 163.8L482.14 168L483.34 163.8L482.62 163.8L482.62 159Z"/>
<path d="M494.1 163L493.76 158.77L496.04 159.23Z"/>
<path d="M306.5 176L302.79 174.36L304.21 172.64Z"/>
<path d="M319.06 173.1L316.37 174.3L316.15 172.7Z"/>
<path d="M332.02 171.1L329.71 174.36L328.33 172.64Z"/>
<path d="M341.36 173.73L343.53 177.65L342.9 178L345.98 181.1L345 176.84L344.36 177.19L342.2 173.27Z"/>
<path d="M354.25 173.87L355.54 174.89L355.09 175.46L359.14 177.1L356.57 173.57L356.13 174.14L354.83 173.13Z"/>
<path d="M379.58 173.5L379.58 183.3L378.86 183.3L380.06 187.5L381.26 183.3L380.54 183.3L380.54 173.5Z"/>
<path d="M443.39 173.46L442.92 179.28L442.2 179.22L443.06 183.5L444.59 179.41L443.87 179.35L444.33 173.54Z"/>
<path d="M456.16 173.4L455.42 176.89L454.71 176.74L455.02 181.1L457.06 177.24L456.35 177.09L457.08 173.6Z"/>
<path d="M468.91 173.42L468.19 177.88L467.47 177.76L467.98 182.1L469.84 178.15L469.12 178.03L469.85 173.58Z"/>
<path d="M481.67 173.44L481.22 176.87L480.5 176.78L481.14 181.1L482.88 177.09L482.16 177L482.61 173.56Z"/>
<path d="M493.1 172.1L495.3 172.99L494.5 174.01Z"/>
<path d="M331.02 184.1L329.88 187.67L328.16 186.53Z"/>
<path d="M341.37 187.34L343.41 190.74L342.79 191.12L345.98 194.1L344.85 189.88L344.23 190.25L342.19 186.86Z"/>
<path d="M354.32 187.52L355.2 187.98L354.86 188.62L359.14 189.5L355.97 186.49L355.64 187.14L354.76 186.68Z"/>
<path d="M379.58 187.1L379.58 188.9L378.86 188.9L380.06 193.1L381.26 188.9L380.54 188.9L380.54 187.1Z"/>
<path d="M443.41 186.96L442.81 188.94L442.12 188.73L442.06 193.1L444.42 189.42L443.72 189.21L444.31 187.24Z"/>
<path d="M456.24 186.81L455.76 187.45L455.18 187.02L453.62 191.1L457.1 188.46L456.52 188.02L457 187.38Z"/>
<path d="M468.93 186.96L467.73 190.94L467.04 190.73L466.98 195.1L469.34 191.42L468.64 191.21L469.83 187.24Z"/>
<path d="M481.68 186.98L480.7 190.91L479.99 190.73L480.14 195.1L482.32 191.32L481.62 191.14L482.6 187.22Z"/>
<path d="M492.1 184.1L495.76 186.3L494.04 187.9Z"/>
<path d="M341.37 200.75L341.38 200.76L340.77 201.14L343.98 204.1L342.81 199.89L342.2 200.27L342.19 200.25Z"/>
<path d="M354.37 200.94L354.65 201.05L354.39 201.73L358.74 202.1L355.24 199.48L354.98 200.16L354.71 200.06Z"/>
<path d="M453.02 201.5L456.33 199.47L456.91 201.53Z"/>
<path d="M468.94 200.31L468.2 202.05L467.53 201.77L466.98 206.1L469.74 202.71L469.07 202.43L469.82 200.69Z"/>
<path d="M481.14 204.1L481.11 200.21L483.17 200.79Z"/>
<path d="M495.27 200.2L495.14 200.04L495.7 199.58L492.1 197.1L493.84 201.1L494.4 200.64L494.53 200.8Z"/>
</g>
<polygon fill="#d4d4d4" points="303,210 303,184.3 314.3,182.4 320.6,179.8 324.4,183.8 330.8,197.8 335.3,210"/>
<polygon fill="#d4d4d4" points="360.9,210 365.3,180 367.3,172.8 374.9,190 379.4,203.5 383.2,190 388.3,167.7 392.7,156 395.9,147.2 399.7,139.5 404.8,135.7 416.5,135.7 420.4,138.3 425.4,147.2 429.3,158 432,166 436.5,178 438.7,187 440,200 443,206 452,208.5 462,208.8 462,210"/>
<polygon fill="#d4d4d4" points="503.5,210 507.1,199.8 508,199 508,210"/>
<rect x="399.6" y="25.5" width="39.8" height="181.2" fill="none" stroke="#1c1c1c" stroke-width="0.85" stroke-linejoin="round"/>
</g>
<rect x="303.5" y="23.3" width="204.2" height="186" fill="none" stroke="#000" stroke-width="0.6"/>
<line x1="300.5" y1="34.8" x2="303.5" y2="34.8" stroke="#000" stroke-width="0.9"/>
<text x="298.3" y="37.9" text-anchor="end" font-size="9.3">700</text>
<line x1="300.5" y1="68.4" x2="303.5" y2="68.4" stroke="#000" stroke-width="0.9"/>
<text x="298.3" y="71.5" text-anchor="end" font-size="9.3">750</text>
<line x1="300.5" y1="100.3" x2="303.5" y2="100.3" stroke="#000" stroke-width="0.9"/>
<text x="298.3" y="103.4" text-anchor="end" font-size="9.3">800</text>
<line x1="300.5" y1="130.5" x2="303.5" y2="130.5" stroke="#000" stroke-width="0.9"/>
<text x="298.3" y="133.6" text-anchor="end" font-size="9.3">850</text>
<line x1="300.5" y1="159" x2="303.5" y2="159" stroke="#000" stroke-width="0.9"/>
<text x="298.3" y="162.1" text-anchor="end" font-size="9.3">900</text>
<line x1="300.5" y1="187.1" x2="303.5" y2="187.1" stroke="#000" stroke-width="0.9"/>
<text x="298.3" y="190.2" text-anchor="end" font-size="9.3">950</text>
<line x1="300.5" y1="208.2" x2="303.5" y2="208.2" stroke="#000" stroke-width="0.9"/>
<text x="298.3" y="211.3" text-anchor="end" font-size="9.3">990</text>
<line x1="303.5" y1="209.3" x2="303.5" y2="211.7" stroke="#000" stroke-width="0.9"/>
<text x="303.5" y="221.9" text-anchor="middle" font-size="9.3">80°E</text>
<line x1="354.5" y1="209.3" x2="354.5" y2="211.7" stroke="#000" stroke-width="0.9"/>
<text x="354.5" y="221.9" text-anchor="middle" font-size="9.3">90°E</text>
<line x1="405.6" y1="209.3" x2="405.6" y2="211.7" stroke="#000" stroke-width="0.9"/>
<text x="405.6" y="221.9" text-anchor="middle" font-size="9.3">100°E</text>
<line x1="456.6" y1="209.3" x2="456.6" y2="211.7" stroke="#000" stroke-width="0.9"/>
<text x="456.6" y="221.9" text-anchor="middle" font-size="9.3">110°E</text>
<line x1="507.7" y1="209.3" x2="507.7" y2="211.7" stroke="#000" stroke-width="0.9"/>
<text x="507.7" y="221.9" text-anchor="middle" font-size="9.3">120°E</text>
<text transform="translate(277.3,115.9) rotate(-90)" text-anchor="middle" font-size="15.8">Pressure(hPa)</text>
<text x="262.7" y="28.3" font-size="14.8">(b)</text>
<g fill="#000"><path d="M455.5 11.07L467.9 11.07L467.9 12.15L473.1 10.5L467.9 8.85L467.9 9.93L455.5 9.93Z"/></g>
<text x="480.7" y="14.1" style="font-family:'DejaVu Sans','Liberation Sans',sans-serif" font-size="10.1">5 m/s</text>
<polygon points="116.7,238.6 114.7,238.6 97.4,247.6 114.7,256.5 116.7,256.5" fill="#4406f0"/>
<polygon points="450.9,238.6 452.9,238.6 470.2,247.6 452.9,256.5 450.9,256.5" fill="#a80000"/>
<rect x="114.7" y="238.6" width="14.39" height="17.9" fill="#0808ff"/>
<rect x="128.79" y="238.6" width="14.39" height="17.9" fill="#0040ff"/>
<rect x="142.88" y="238.6" width="14.39" height="17.9" fill="#0070ff"/>
<rect x="156.97" y="238.6" width="14.39" height="17.9" fill="#0088ff"/>
<rect x="171.06" y="238.6" width="14.39" height="17.9" fill="#00a0ff"/>
<rect x="185.15" y="238.6" width="14.39" height="17.9" fill="#00c4ff"/>
<rect x="199.24" y="238.6" width="14.39" height="17.9" fill="#00e4ff"/>
<rect x="213.33" y="238.6" width="14.39" height="17.9" fill="#08fff4"/>
<rect x="227.42" y="238.6" width="14.39" height="17.9" fill="#00ffb0"/>
<rect x="241.51" y="238.6" width="14.39" height="17.9" fill="#00ff70"/>
<rect x="255.6" y="238.6" width="14.39" height="17.9" fill="#00ff14"/>
<rect x="269.69" y="238.6" width="14.39" height="17.9" fill="#34ff00"/>
<rect x="283.78" y="238.6" width="14.39" height="17.9" fill="#8cff00"/>
<rect x="297.87" y="238.6" width="14.39" height="17.9" fill="#c4ff00"/>
<rect x="311.96" y="238.6" width="14.39" height="17.9" fill="#e8ff00"/>
<rect x="326.05" y="238.6" width="14.39" height="17.9" fill="#ffff00"/>
<rect x="340.14" y="238.6" width="14.39" height="17.9" fill="#ffd41c"/>
<rect x="354.23" y="238.6" width="14.39" height="17.9" fill="#ffa81c"/>
<rect x="368.32" y="238.6" width="14.39" height="17.9" fill="#ff7c10"/>
<rect x="382.41" y="238.6" width="14.39" height="17.9" fill="#ff5a00"/>
<rect x="396.5" y="238.6" width="14.39" height="17.9" fill="#f43030"/>
<rect x="410.59" y="238.6" width="14.39" height="17.9" fill="#e60000"/>
<rect x="424.68" y="238.6" width="14.39" height="17.9" fill="#d80000"/>
<rect x="438.77" y="238.6" width="14.09" height="17.9" fill="#c80000"/>
<polygon points="114.7,238.6 452.9,238.6 470.2,247.6 452.9,256.5 114.7,256.5 97.4,247.6" fill="none" stroke="#222" stroke-width="0.6"/>
<line x1="114.7" y1="256.5" x2="114.7" y2="258.9" stroke="#000" stroke-width="0.8"/>
<text x="114.7" y="270.3" text-anchor="middle" font-size="10.4">6</text>
<line x1="157" y1="256.5" x2="157" y2="258.9" stroke="#000" stroke-width="0.8"/>
<text x="157" y="270.3" text-anchor="middle" font-size="10.4">15</text>
<line x1="199.2" y1="256.5" x2="199.2" y2="258.9" stroke="#000" stroke-width="0.8"/>
<text x="199.2" y="270.3" text-anchor="middle" font-size="10.4">24</text>
<line x1="241.5" y1="256.5" x2="241.5" y2="258.9" stroke="#000" stroke-width="0.8"/>
<text x="241.5" y="270.3" text-anchor="middle" font-size="10.4">33</text>
<line x1="283.8" y1="256.5" x2="283.8" y2="258.9" stroke="#000" stroke-width="0.8"/>
<text x="283.8" y="270.3" text-anchor="middle" font-size="10.4">42</text>
<line x1="326" y1="256.5" x2="326" y2="258.9" stroke="#000" stroke-width="0.8"/>
<text x="326" y="270.3" text-anchor="middle" font-size="10.4">51</text>
<line x1="368.3" y1="256.5" x2="368.3" y2="258.9" stroke="#000" stroke-width="0.8"/>
<text x="368.3" y="270.3" text-anchor="middle" font-size="10.4">60</text>
<line x1="410.6" y1="256.5" x2="410.6" y2="258.9" stroke="#000" stroke-width="0.8"/>
<text x="410.6" y="270.3" text-anchor="middle" font-size="10.4">69</text>
<line x1="452.9" y1="256.5" x2="452.9" y2="258.9" stroke="#000" stroke-width="0.8"/>
<text x="452.9" y="270.3" text-anchor="middle" font-size="10.4">78</text>
<polygon points="520.3,198.6 520.3,200.6 525,209.1 529.8,200.6 529.8,198.6" fill="#4406f0"/>
<polygon points="520.3,33.7 520.3,31.7 525,23.2 529.8,31.7 529.8,33.7" fill="#a80000"/>
<rect x="520.3" y="193.31" width="9.5" height="7.29" fill="#0808ff"/>
<rect x="520.3" y="186.28" width="9.5" height="7.29" fill="#0040ff"/>
<rect x="520.3" y="179.24" width="9.5" height="7.29" fill="#0070ff"/>
<rect x="520.3" y="172.2" width="9.5" height="7.29" fill="#0088ff"/>
<rect x="520.3" y="165.16" width="9.5" height="7.29" fill="#00a0ff"/>
<rect x="520.3" y="158.12" width="9.5" height="7.29" fill="#00c4ff"/>
<rect x="520.3" y="151.09" width="9.5" height="7.29" fill="#00e4ff"/>
<rect x="520.3" y="144.05" width="9.5" height="7.29" fill="#08fff4"/>
<rect x="520.3" y="137.01" width="9.5" height="7.29" fill="#00ffb0"/>
<rect x="520.3" y="129.97" width="9.5" height="7.29" fill="#00ff70"/>
<rect x="520.3" y="122.94" width="9.5" height="7.29" fill="#00ff14"/>
<rect x="520.3" y="115.9" width="9.5" height="7.29" fill="#34ff00"/>
<rect x="520.3" y="108.86" width="9.5" height="7.29" fill="#8cff00"/>
<rect x="520.3" y="101.82" width="9.5" height="7.29" fill="#c4ff00"/>
<rect x="520.3" y="94.79" width="9.5" height="7.29" fill="#e8ff00"/>
<rect x="520.3" y="87.75" width="9.5" height="7.29" fill="#ffff00"/>
<rect x="520.3" y="80.71" width="9.5" height="7.29" fill="#ffd41c"/>
<rect x="520.3" y="73.67" width="9.5" height="7.29" fill="#ffa81c"/>
<rect x="520.3" y="66.64" width="9.5" height="7.29" fill="#ff7c10"/>
<rect x="520.3" y="59.6" width="9.5" height="7.29" fill="#ff5a00"/>
<rect x="520.3" y="52.56" width="9.5" height="7.29" fill="#f43030"/>
<rect x="520.3" y="45.52" width="9.5" height="7.29" fill="#e60000"/>
<rect x="520.3" y="38.49" width="9.5" height="7.29" fill="#d80000"/>
<rect x="520.3" y="31.7" width="9.5" height="7.04" fill="#c80000"/>
<polygon points="520.3,31.7 525,23.2 529.8,31.7 529.8,200.6 525,209.1 520.3,200.6" fill="none" stroke="#222" stroke-width="0.6"/>
<line x1="529.8" y1="200.6" x2="532.2" y2="200.6" stroke="#000" stroke-width="0.8"/>
<text x="536" y="203.7" font-size="9.2">6</text>
<line x1="529.8" y1="179.5" x2="532.2" y2="179.5" stroke="#000" stroke-width="0.8"/>
<text x="536" y="182.6" font-size="9.2">15</text>
<line x1="529.8" y1="158.4" x2="532.2" y2="158.4" stroke="#000" stroke-width="0.8"/>
<text x="536" y="161.5" font-size="9.2">24</text>
<line x1="529.8" y1="137.3" x2="532.2" y2="137.3" stroke="#000" stroke-width="0.8"/>
<text x="536" y="140.4" font-size="9.2">33</text>
<line x1="529.8" y1="116.1" x2="532.2" y2="116.1" stroke="#000" stroke-width="0.8"/>
<text x="536" y="119.2" font-size="9.2">42</text>
<line x1="529.8" y1="95" x2="532.2" y2="95" stroke="#000" stroke-width="0.8"/>
<text x="536" y="98.1" font-size="9.2">51</text>
<line x1="529.8" y1="73.9" x2="532.2" y2="73.9" stroke="#000" stroke-width="0.8"/>
<text x="536" y="77" font-size="9.2">60</text>
<line x1="529.8" y1="52.8" x2="532.2" y2="52.8" stroke="#000" stroke-width="0.8"/>
<text x="536" y="55.9" font-size="9.2">69</text>
<line x1="529.8" y1="31.7" x2="532.2" y2="31.7" stroke="#000" stroke-width="0.8"/>
<text x="536" y="34.8" font-size="9.2">78</text>
</svg></body></html>
